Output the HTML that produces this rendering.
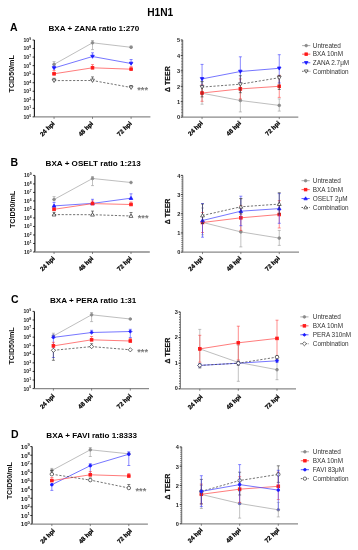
<!DOCTYPE html>
<html><head><meta charset="utf-8"><style>
html,body{margin:0;padding:0;background:#fff;}
body{width:358px;height:550px;overflow:hidden;}
svg{display:block;font-family:"Liberation Sans", sans-serif;will-change:transform;}
</style></head><body>
<svg width="358" height="550" viewBox="0 0 358 550">
<rect width="358" height="550" fill="#fff"/>
<text x="160.2" y="15.9" font-size="10.2" font-weight="bold" text-anchor="middle" fill="#000" >H1N1</text>
<text x="10" y="30.6" font-size="10.5" font-weight="bold" text-anchor="start" fill="#000" >A</text>
<text x="48.4" y="30.6" font-size="8.1" font-weight="bold" text-anchor="start" fill="#000" >BXA + ZANA ratio 1:270</text>
<line x1="34.4" y1="40" x2="34.4" y2="116.9" stroke="#1a1a1a" stroke-width="1.15"/>
<line x1="34.4" y1="116.9" x2="150.4" y2="116.9" stroke="#8a8a8a" stroke-width="1.3"/>
<line x1="32.6" y1="116.9" x2="34.4" y2="116.9" stroke="#000" stroke-width="0.8"/>
<text x="31.1" y="118.8" font-size="5.1" font-weight="bold" text-anchor="end" fill="#222">10<tspan font-size="3.40" dy="-2.10">0</tspan></text>
<line x1="32.6" y1="108.36" x2="34.4" y2="108.36" stroke="#000" stroke-width="0.8"/>
<text x="31.1" y="110.26" font-size="5.1" font-weight="bold" text-anchor="end" fill="#222">10<tspan font-size="3.40" dy="-2.10">1</tspan></text>
<line x1="32.6" y1="99.81" x2="34.4" y2="99.81" stroke="#000" stroke-width="0.8"/>
<text x="31.1" y="101.71" font-size="5.1" font-weight="bold" text-anchor="end" fill="#222">10<tspan font-size="3.40" dy="-2.10">2</tspan></text>
<line x1="32.6" y1="91.27" x2="34.4" y2="91.27" stroke="#000" stroke-width="0.8"/>
<text x="31.1" y="93.17" font-size="5.1" font-weight="bold" text-anchor="end" fill="#222">10<tspan font-size="3.40" dy="-2.10">3</tspan></text>
<line x1="32.6" y1="82.72" x2="34.4" y2="82.72" stroke="#000" stroke-width="0.8"/>
<text x="31.1" y="84.62" font-size="5.1" font-weight="bold" text-anchor="end" fill="#222">10<tspan font-size="3.40" dy="-2.10">4</tspan></text>
<line x1="32.6" y1="74.18" x2="34.4" y2="74.18" stroke="#000" stroke-width="0.8"/>
<text x="31.1" y="76.08" font-size="5.1" font-weight="bold" text-anchor="end" fill="#222">10<tspan font-size="3.40" dy="-2.10">5</tspan></text>
<line x1="32.6" y1="65.63" x2="34.4" y2="65.63" stroke="#000" stroke-width="0.8"/>
<text x="31.1" y="67.53" font-size="5.1" font-weight="bold" text-anchor="end" fill="#222">10<tspan font-size="3.40" dy="-2.10">6</tspan></text>
<line x1="32.6" y1="57.09" x2="34.4" y2="57.09" stroke="#000" stroke-width="0.8"/>
<text x="31.1" y="58.99" font-size="5.1" font-weight="bold" text-anchor="end" fill="#222">10<tspan font-size="3.40" dy="-2.10">7</tspan></text>
<line x1="32.6" y1="48.54" x2="34.4" y2="48.54" stroke="#000" stroke-width="0.8"/>
<text x="31.1" y="50.44" font-size="5.1" font-weight="bold" text-anchor="end" fill="#222">10<tspan font-size="3.40" dy="-2.10">8</tspan></text>
<line x1="32.6" y1="40.0" x2="34.4" y2="40.0" stroke="#000" stroke-width="0.8"/>
<text x="31.1" y="41.9" font-size="5.1" font-weight="bold" text-anchor="end" fill="#222">10<tspan font-size="3.40" dy="-2.10">9</tspan></text>
<text x="11.85" y="73.85" font-size="6.9" font-weight="bold" text-anchor="middle" fill="#111" transform="rotate(-90 11.85 73.85)" dominant-baseline="central" textLength="37.2" lengthAdjust="spacingAndGlyphs">TCID50/mL</text>
<line x1="54.05" y1="116.9" x2="54.05" y2="118.9" stroke="#555" stroke-width="0.7"/>
<text x="51.7" y="120.63" font-size="6.2" font-weight="bold" text-anchor="end" fill="#000" stroke="#000" stroke-width="0.25" transform="rotate(-45 51.7 120.63)" dominant-baseline="hanging">24 hpi</text>
<line x1="92.5" y1="116.9" x2="92.5" y2="118.9" stroke="#555" stroke-width="0.7"/>
<text x="90.15" y="120.63" font-size="6.2" font-weight="bold" text-anchor="end" fill="#000" stroke="#000" stroke-width="0.25" transform="rotate(-45 90.15 120.63)" dominant-baseline="hanging">48 hpi</text>
<line x1="131.1" y1="116.9" x2="131.1" y2="118.9" stroke="#555" stroke-width="0.7"/>
<text x="128.75" y="120.63" font-size="6.2" font-weight="bold" text-anchor="end" fill="#000" stroke="#000" stroke-width="0.25" transform="rotate(-45 128.75 120.63)" dominant-baseline="hanging">72 hpi</text>
<polyline points="54.05,64.40 92.50,42.80 131.10,47.30" fill="none" stroke="#a8a8a8" stroke-width="0.75"/>
<polyline points="54.05,68.00 92.50,56.50 131.10,63.50" fill="none" stroke="#4848ff" stroke-width="0.75"/>
<polyline points="54.05,73.80 92.50,67.80 131.10,69.20" fill="none" stroke="#ff5050" stroke-width="0.75"/>
<polyline points="54.05,80.60 92.50,80.50 131.10,87.50" fill="none" stroke="#444" stroke-width="0.75" stroke-dasharray="2.2,1.6"/>
<line x1="54.05" y1="61.6" x2="54.05" y2="64.4" stroke="#999" stroke-width="0.6"/>
<line x1="52.55" y1="61.6" x2="55.55" y2="61.6" stroke="#999" stroke-width="0.6"/>
<line x1="52.55" y1="64.4" x2="55.55" y2="64.4" stroke="#999" stroke-width="0.6"/>
<line x1="92.5" y1="40.5" x2="92.5" y2="49.6" stroke="#999" stroke-width="0.6"/>
<line x1="91.0" y1="40.5" x2="94.0" y2="40.5" stroke="#999" stroke-width="0.6"/>
<line x1="91.0" y1="49.6" x2="94.0" y2="49.6" stroke="#999" stroke-width="0.6"/>
<line x1="131.1" y1="46" x2="131.1" y2="47.3" stroke="#999" stroke-width="0.6"/>
<line x1="129.6" y1="46" x2="132.6" y2="46" stroke="#999" stroke-width="0.6"/>
<line x1="129.6" y1="47.3" x2="132.6" y2="47.3" stroke="#999" stroke-width="0.6"/>
<circle cx="54.05" cy="64.4" r="1.35" fill="#8a8a8a" stroke="#8a8a8a" stroke-width="0.8"/>
<circle cx="92.5" cy="42.8" r="1.35" fill="#8a8a8a" stroke="#8a8a8a" stroke-width="0.8"/>
<circle cx="131.1" cy="47.3" r="1.35" fill="#8a8a8a" stroke="#8a8a8a" stroke-width="0.8"/>
<line x1="54.05" y1="66.1" x2="54.05" y2="68" stroke="#3a3aff" stroke-width="0.6"/>
<line x1="52.55" y1="66.1" x2="55.55" y2="66.1" stroke="#3a3aff" stroke-width="0.6"/>
<line x1="52.55" y1="68" x2="55.55" y2="68" stroke="#3a3aff" stroke-width="0.6"/>
<line x1="92.5" y1="52.8" x2="92.5" y2="56.5" stroke="#3a3aff" stroke-width="0.6"/>
<line x1="91.0" y1="52.8" x2="94.0" y2="52.8" stroke="#3a3aff" stroke-width="0.6"/>
<line x1="91.0" y1="56.5" x2="94.0" y2="56.5" stroke="#3a3aff" stroke-width="0.6"/>
<line x1="131.1" y1="59.5" x2="131.1" y2="63.5" stroke="#3a3aff" stroke-width="0.6"/>
<line x1="129.6" y1="59.5" x2="132.6" y2="59.5" stroke="#3a3aff" stroke-width="0.6"/>
<line x1="129.6" y1="63.5" x2="132.6" y2="63.5" stroke="#3a3aff" stroke-width="0.6"/>
<polygon points="52.27,66.7 55.83,66.7 54.05,69.78" fill="#1a1aff" stroke="#1a1aff" stroke-width="0.8"/>
<polygon points="90.72,55.2 94.28,55.2 92.5,58.28" fill="#1a1aff" stroke="#1a1aff" stroke-width="0.8"/>
<polygon points="129.32,62.2 132.88,62.2 131.1,65.28" fill="#1a1aff" stroke="#1a1aff" stroke-width="0.8"/>
<line x1="54.05" y1="70.4" x2="54.05" y2="73.8" stroke="#ff4040" stroke-width="0.6"/>
<line x1="52.55" y1="70.4" x2="55.55" y2="70.4" stroke="#ff4040" stroke-width="0.6"/>
<line x1="52.55" y1="73.8" x2="55.55" y2="73.8" stroke="#ff4040" stroke-width="0.6"/>
<line x1="92.5" y1="64.6" x2="92.5" y2="67.8" stroke="#ff4040" stroke-width="0.6"/>
<line x1="91.0" y1="64.6" x2="94.0" y2="64.6" stroke="#ff4040" stroke-width="0.6"/>
<line x1="91.0" y1="67.8" x2="94.0" y2="67.8" stroke="#ff4040" stroke-width="0.6"/>
<line x1="131.1" y1="66.7" x2="131.1" y2="69.2" stroke="#ff4040" stroke-width="0.6"/>
<line x1="129.6" y1="66.7" x2="132.6" y2="66.7" stroke="#ff4040" stroke-width="0.6"/>
<line x1="129.6" y1="69.2" x2="132.6" y2="69.2" stroke="#ff4040" stroke-width="0.6"/>
<rect x="52.7" y="72.45" width="2.7" height="2.7" fill="#ff1a1a" stroke="#ff1a1a" stroke-width="0.8"/>
<rect x="91.15" y="66.45" width="2.7" height="2.7" fill="#ff1a1a" stroke="#ff1a1a" stroke-width="0.8"/>
<rect x="129.75" y="67.85" width="2.7" height="2.7" fill="#ff1a1a" stroke="#ff1a1a" stroke-width="0.8"/>
<line x1="54.05" y1="78.3" x2="54.05" y2="80.6" stroke="#333" stroke-width="0.6"/>
<line x1="52.55" y1="78.3" x2="55.55" y2="78.3" stroke="#333" stroke-width="0.6"/>
<line x1="52.55" y1="80.6" x2="55.55" y2="80.6" stroke="#333" stroke-width="0.6"/>
<line x1="92.5" y1="76.9" x2="92.5" y2="80.5" stroke="#333" stroke-width="0.6"/>
<line x1="91.0" y1="76.9" x2="94.0" y2="76.9" stroke="#333" stroke-width="0.6"/>
<line x1="91.0" y1="80.5" x2="94.0" y2="80.5" stroke="#333" stroke-width="0.6"/>
<line x1="131.1" y1="85.5" x2="131.1" y2="87.5" stroke="#333" stroke-width="0.6"/>
<line x1="129.6" y1="85.5" x2="132.6" y2="85.5" stroke="#333" stroke-width="0.6"/>
<line x1="129.6" y1="87.5" x2="132.6" y2="87.5" stroke="#333" stroke-width="0.6"/>
<polygon points="52.12,79.2 55.98,79.2 54.05,82.53" fill="white" stroke="#222" stroke-width="0.65"/>
<polygon points="90.57,79.1 94.43,79.1 92.5,82.43" fill="white" stroke="#222" stroke-width="0.65"/>
<polygon points="129.17,86.1 133.03,86.1 131.1,89.43" fill="white" stroke="#222" stroke-width="0.65"/>
<text x="137.3" y="92.8" font-size="9.2" font-weight="bold" text-anchor="start" fill="#7a7a7a" >***</text>
<line x1="182.7" y1="40" x2="182.7" y2="117.1" stroke="#777" stroke-width="1.05"/>
<line x1="182.7" y1="117.1" x2="298.3" y2="117.1" stroke="#8a8a8a" stroke-width="1.2"/>
<line x1="180.7" y1="117.1" x2="182.7" y2="117.1" stroke="#333" stroke-width="0.8"/>
<text x="180.2" y="119.45" font-size="5.6" font-weight="bold" text-anchor="end" fill="#222" >0</text>
<line x1="180.7" y1="101.68" x2="182.7" y2="101.68" stroke="#333" stroke-width="0.8"/>
<text x="180.2" y="104.03" font-size="5.6" font-weight="bold" text-anchor="end" fill="#222" >1</text>
<line x1="180.7" y1="86.26" x2="182.7" y2="86.26" stroke="#333" stroke-width="0.8"/>
<text x="180.2" y="88.61" font-size="5.6" font-weight="bold" text-anchor="end" fill="#222" >2</text>
<line x1="180.7" y1="70.84" x2="182.7" y2="70.84" stroke="#333" stroke-width="0.8"/>
<text x="180.2" y="73.19" font-size="5.6" font-weight="bold" text-anchor="end" fill="#222" >3</text>
<line x1="180.7" y1="55.42" x2="182.7" y2="55.42" stroke="#333" stroke-width="0.8"/>
<text x="180.2" y="57.77" font-size="5.6" font-weight="bold" text-anchor="end" fill="#222" >4</text>
<line x1="180.7" y1="40.0" x2="182.7" y2="40.0" stroke="#333" stroke-width="0.8"/>
<text x="180.2" y="42.35" font-size="5.6" font-weight="bold" text-anchor="end" fill="#222" >5</text>
<line x1="181.3" y1="117.1" x2="182.4" y2="117.1" stroke="#111" stroke-width="0.65"/>
<line x1="181.3" y1="115.56" x2="182.4" y2="115.56" stroke="#111" stroke-width="0.65"/>
<line x1="181.3" y1="114.02" x2="182.4" y2="114.02" stroke="#111" stroke-width="0.65"/>
<line x1="181.3" y1="112.47" x2="182.4" y2="112.47" stroke="#111" stroke-width="0.65"/>
<line x1="181.3" y1="110.93" x2="182.4" y2="110.93" stroke="#111" stroke-width="0.65"/>
<line x1="181.3" y1="109.39" x2="182.4" y2="109.39" stroke="#111" stroke-width="0.65"/>
<line x1="181.3" y1="107.85" x2="182.4" y2="107.85" stroke="#111" stroke-width="0.65"/>
<line x1="181.3" y1="106.31" x2="182.4" y2="106.31" stroke="#111" stroke-width="0.65"/>
<line x1="181.3" y1="104.76" x2="182.4" y2="104.76" stroke="#111" stroke-width="0.65"/>
<line x1="181.3" y1="103.22" x2="182.4" y2="103.22" stroke="#111" stroke-width="0.65"/>
<line x1="181.3" y1="101.68" x2="182.4" y2="101.68" stroke="#111" stroke-width="0.65"/>
<line x1="181.3" y1="100.14" x2="182.4" y2="100.14" stroke="#111" stroke-width="0.65"/>
<line x1="181.3" y1="98.6" x2="182.4" y2="98.6" stroke="#111" stroke-width="0.65"/>
<line x1="181.3" y1="97.05" x2="182.4" y2="97.05" stroke="#111" stroke-width="0.65"/>
<line x1="181.3" y1="95.51" x2="182.4" y2="95.51" stroke="#111" stroke-width="0.65"/>
<line x1="181.3" y1="93.97" x2="182.4" y2="93.97" stroke="#111" stroke-width="0.65"/>
<line x1="181.3" y1="92.43" x2="182.4" y2="92.43" stroke="#111" stroke-width="0.65"/>
<line x1="181.3" y1="90.89" x2="182.4" y2="90.89" stroke="#111" stroke-width="0.65"/>
<line x1="181.3" y1="89.34" x2="182.4" y2="89.34" stroke="#111" stroke-width="0.65"/>
<line x1="181.3" y1="87.8" x2="182.4" y2="87.8" stroke="#111" stroke-width="0.65"/>
<line x1="181.3" y1="86.26" x2="182.4" y2="86.26" stroke="#111" stroke-width="0.65"/>
<line x1="181.3" y1="84.72" x2="182.4" y2="84.72" stroke="#111" stroke-width="0.65"/>
<line x1="181.3" y1="83.18" x2="182.4" y2="83.18" stroke="#111" stroke-width="0.65"/>
<line x1="181.3" y1="81.63" x2="182.4" y2="81.63" stroke="#111" stroke-width="0.65"/>
<line x1="181.3" y1="80.09" x2="182.4" y2="80.09" stroke="#111" stroke-width="0.65"/>
<line x1="181.3" y1="78.55" x2="182.4" y2="78.55" stroke="#111" stroke-width="0.65"/>
<line x1="181.3" y1="77.01" x2="182.4" y2="77.01" stroke="#111" stroke-width="0.65"/>
<line x1="181.3" y1="75.47" x2="182.4" y2="75.47" stroke="#111" stroke-width="0.65"/>
<line x1="181.3" y1="73.92" x2="182.4" y2="73.92" stroke="#111" stroke-width="0.65"/>
<line x1="181.3" y1="72.38" x2="182.4" y2="72.38" stroke="#111" stroke-width="0.65"/>
<line x1="181.3" y1="70.84" x2="182.4" y2="70.84" stroke="#111" stroke-width="0.65"/>
<line x1="181.3" y1="69.3" x2="182.4" y2="69.3" stroke="#111" stroke-width="0.65"/>
<line x1="181.3" y1="67.76" x2="182.4" y2="67.76" stroke="#111" stroke-width="0.65"/>
<line x1="181.3" y1="66.21" x2="182.4" y2="66.21" stroke="#111" stroke-width="0.65"/>
<line x1="181.3" y1="64.67" x2="182.4" y2="64.67" stroke="#111" stroke-width="0.65"/>
<line x1="181.3" y1="63.13" x2="182.4" y2="63.13" stroke="#111" stroke-width="0.65"/>
<line x1="181.3" y1="61.59" x2="182.4" y2="61.59" stroke="#111" stroke-width="0.65"/>
<line x1="181.3" y1="60.05" x2="182.4" y2="60.05" stroke="#111" stroke-width="0.65"/>
<line x1="181.3" y1="58.5" x2="182.4" y2="58.5" stroke="#111" stroke-width="0.65"/>
<line x1="181.3" y1="56.96" x2="182.4" y2="56.96" stroke="#111" stroke-width="0.65"/>
<line x1="181.3" y1="55.42" x2="182.4" y2="55.42" stroke="#111" stroke-width="0.65"/>
<line x1="181.3" y1="53.88" x2="182.4" y2="53.88" stroke="#111" stroke-width="0.65"/>
<line x1="181.3" y1="52.34" x2="182.4" y2="52.34" stroke="#111" stroke-width="0.65"/>
<line x1="181.3" y1="50.79" x2="182.4" y2="50.79" stroke="#111" stroke-width="0.65"/>
<line x1="181.3" y1="49.25" x2="182.4" y2="49.25" stroke="#111" stroke-width="0.65"/>
<line x1="181.3" y1="47.71" x2="182.4" y2="47.71" stroke="#111" stroke-width="0.65"/>
<line x1="181.3" y1="46.17" x2="182.4" y2="46.17" stroke="#111" stroke-width="0.65"/>
<line x1="181.3" y1="44.63" x2="182.4" y2="44.63" stroke="#111" stroke-width="0.65"/>
<line x1="181.3" y1="43.08" x2="182.4" y2="43.08" stroke="#111" stroke-width="0.65"/>
<line x1="181.3" y1="41.54" x2="182.4" y2="41.54" stroke="#111" stroke-width="0.65"/>
<line x1="181.3" y1="40.0" x2="182.4" y2="40.0" stroke="#111" stroke-width="0.65"/>
<text x="167.8" y="79.1" font-size="6.6" font-weight="bold" text-anchor="middle" fill="#111" stroke="#111" stroke-width="0.2" transform="rotate(-90 167.8 79.1)" dominant-baseline="central" textLength="25.6" lengthAdjust="spacingAndGlyphs">&#916; TEER</text>
<line x1="202.05" y1="117.1" x2="202.05" y2="119.1" stroke="#555" stroke-width="0.7"/>
<text x="199.78" y="120.22" font-size="6.2" font-weight="bold" text-anchor="end" fill="#000" stroke="#000" stroke-width="0.25" transform="rotate(-45 199.78 120.22)" dominant-baseline="hanging">24 hpi</text>
<line x1="240.35" y1="117.1" x2="240.35" y2="119.1" stroke="#555" stroke-width="0.7"/>
<text x="238.08" y="120.22" font-size="6.2" font-weight="bold" text-anchor="end" fill="#000" stroke="#000" stroke-width="0.25" transform="rotate(-45 238.08 120.22)" dominant-baseline="hanging">48 hpi</text>
<line x1="279.25" y1="117.1" x2="279.25" y2="119.1" stroke="#555" stroke-width="0.7"/>
<text x="276.98" y="120.22" font-size="6.2" font-weight="bold" text-anchor="end" fill="#000" stroke="#000" stroke-width="0.25" transform="rotate(-45 276.98 120.22)" dominant-baseline="hanging">72 hpi</text>
<polyline points="202.05,93.20 240.35,100.50 279.25,105.40" fill="none" stroke="#a8a8a8" stroke-width="0.75"/>
<polyline points="202.05,93.00 240.35,88.90 279.25,86.30" fill="none" stroke="#ff5050" stroke-width="0.75"/>
<polyline points="202.05,78.90 240.35,71.50 279.25,68.30" fill="none" stroke="#4848ff" stroke-width="0.75"/>
<polyline points="202.05,87.10 240.35,84.20 279.25,77.70" fill="none" stroke="#444" stroke-width="0.75" stroke-dasharray="2.2,1.6"/>
<line x1="202.05" y1="81.3" x2="202.05" y2="104.2" stroke="#999" stroke-width="0.6"/>
<line x1="200.55" y1="81.3" x2="203.55" y2="81.3" stroke="#999" stroke-width="0.6"/>
<line x1="200.55" y1="104.2" x2="203.55" y2="104.2" stroke="#999" stroke-width="0.6"/>
<line x1="240.35" y1="90" x2="240.35" y2="111.9" stroke="#999" stroke-width="0.6"/>
<line x1="238.85" y1="90" x2="241.85" y2="90" stroke="#999" stroke-width="0.6"/>
<line x1="238.85" y1="111.9" x2="241.85" y2="111.9" stroke="#999" stroke-width="0.6"/>
<line x1="279.25" y1="98.9" x2="279.25" y2="111.1" stroke="#999" stroke-width="0.6"/>
<line x1="277.75" y1="98.9" x2="280.75" y2="98.9" stroke="#999" stroke-width="0.6"/>
<line x1="277.75" y1="111.1" x2="280.75" y2="111.1" stroke="#999" stroke-width="0.6"/>
<circle cx="202.05" cy="93.2" r="1.35" fill="#8a8a8a" stroke="#8a8a8a" stroke-width="0.8"/>
<circle cx="240.35" cy="100.5" r="1.35" fill="#8a8a8a" stroke="#8a8a8a" stroke-width="0.8"/>
<circle cx="279.25" cy="105.4" r="1.35" fill="#8a8a8a" stroke="#8a8a8a" stroke-width="0.8"/>
<line x1="202.05" y1="84.8" x2="202.05" y2="101.3" stroke="#ff4040" stroke-width="0.6"/>
<line x1="200.55" y1="84.8" x2="203.55" y2="84.8" stroke="#ff4040" stroke-width="0.6"/>
<line x1="200.55" y1="101.3" x2="203.55" y2="101.3" stroke="#ff4040" stroke-width="0.6"/>
<line x1="240.35" y1="78.9" x2="240.35" y2="98.9" stroke="#ff4040" stroke-width="0.6"/>
<line x1="238.85" y1="78.9" x2="241.85" y2="78.9" stroke="#ff4040" stroke-width="0.6"/>
<line x1="238.85" y1="98.9" x2="241.85" y2="98.9" stroke="#ff4040" stroke-width="0.6"/>
<line x1="279.25" y1="75.4" x2="279.25" y2="97.4" stroke="#ff4040" stroke-width="0.6"/>
<line x1="277.75" y1="75.4" x2="280.75" y2="75.4" stroke="#ff4040" stroke-width="0.6"/>
<line x1="277.75" y1="97.4" x2="280.75" y2="97.4" stroke="#ff4040" stroke-width="0.6"/>
<rect x="200.7" y="91.65" width="2.7" height="2.7" fill="#ff1a1a" stroke="#ff1a1a" stroke-width="0.8"/>
<rect x="239.0" y="87.55" width="2.7" height="2.7" fill="#ff1a1a" stroke="#ff1a1a" stroke-width="0.8"/>
<rect x="277.9" y="84.95" width="2.7" height="2.7" fill="#ff1a1a" stroke="#ff1a1a" stroke-width="0.8"/>
<line x1="202.05" y1="64.4" x2="202.05" y2="86" stroke="#3a3aff" stroke-width="0.6"/>
<line x1="200.55" y1="64.4" x2="203.55" y2="64.4" stroke="#3a3aff" stroke-width="0.6"/>
<line x1="200.55" y1="86" x2="203.55" y2="86" stroke="#3a3aff" stroke-width="0.6"/>
<line x1="240.35" y1="56.8" x2="240.35" y2="83" stroke="#3a3aff" stroke-width="0.6"/>
<line x1="238.85" y1="56.8" x2="241.85" y2="56.8" stroke="#3a3aff" stroke-width="0.6"/>
<line x1="238.85" y1="83" x2="241.85" y2="83" stroke="#3a3aff" stroke-width="0.6"/>
<line x1="279.25" y1="54.7" x2="279.25" y2="83" stroke="#3a3aff" stroke-width="0.6"/>
<line x1="277.75" y1="54.7" x2="280.75" y2="54.7" stroke="#3a3aff" stroke-width="0.6"/>
<line x1="277.75" y1="83" x2="280.75" y2="83" stroke="#3a3aff" stroke-width="0.6"/>
<polygon points="200.27,77.6 203.83,77.6 202.05,80.68" fill="#1a1aff" stroke="#1a1aff" stroke-width="0.8"/>
<polygon points="238.57,70.2 242.13,70.2 240.35,73.28" fill="#1a1aff" stroke="#1a1aff" stroke-width="0.8"/>
<polygon points="277.47,67 281.03,67 279.25,70.08" fill="#1a1aff" stroke="#1a1aff" stroke-width="0.8"/>
<line x1="202.05" y1="81.6" x2="202.05" y2="96.9" stroke="#333" stroke-width="0.6"/>
<line x1="200.55" y1="81.6" x2="203.55" y2="81.6" stroke="#333" stroke-width="0.6"/>
<line x1="200.55" y1="96.9" x2="203.55" y2="96.9" stroke="#333" stroke-width="0.6"/>
<line x1="240.35" y1="75.7" x2="240.35" y2="92.7" stroke="#333" stroke-width="0.6"/>
<line x1="238.85" y1="75.7" x2="241.85" y2="75.7" stroke="#333" stroke-width="0.6"/>
<line x1="238.85" y1="92.7" x2="241.85" y2="92.7" stroke="#333" stroke-width="0.6"/>
<line x1="279.25" y1="75.4" x2="279.25" y2="89.5" stroke="#333" stroke-width="0.6"/>
<line x1="277.75" y1="75.4" x2="280.75" y2="75.4" stroke="#333" stroke-width="0.6"/>
<line x1="277.75" y1="89.5" x2="280.75" y2="89.5" stroke="#333" stroke-width="0.6"/>
<polygon points="200.12,85.7 203.98,85.7 202.05,89.03" fill="white" stroke="#222" stroke-width="0.65"/>
<polygon points="238.42,82.8 242.28,82.8 240.35,86.13" fill="white" stroke="#222" stroke-width="0.65"/>
<polygon points="277.32,76.3 281.18,76.3 279.25,79.63" fill="white" stroke="#222" stroke-width="0.65"/>
<line x1="302.1" y1="45.6" x2="310.3" y2="45.6" stroke="#8a8a8a" stroke-width="0.7"/>
<circle cx="306.2" cy="45.6" r="1.3" fill="#8a8a8a" stroke="#8a8a8a" stroke-width="0.8"/>
<text x="312.8" y="47.9" font-size="6.4" font-weight="normal" text-anchor="start" fill="#333" >Untreated</text>
<line x1="302.1" y1="54.17" x2="310.3" y2="54.17" stroke="#ff1a1a" stroke-width="0.7"/>
<rect x="304.9" y="52.87" width="2.6" height="2.6" fill="#ff1a1a" stroke="#ff1a1a" stroke-width="0.8"/>
<text x="312.8" y="56.47" font-size="6.4" font-weight="normal" text-anchor="start" fill="#333" >BXA 10nM</text>
<line x1="302.1" y1="62.74" x2="310.3" y2="62.74" stroke="#1a1aff" stroke-width="0.7"/>
<polygon points="304.48,61.49 307.92,61.49 306.2,64.46" fill="#1a1aff" stroke="#1a1aff" stroke-width="0.8"/>
<text x="312.8" y="65.04" font-size="6.4" font-weight="normal" text-anchor="start" fill="#333" >ZANA 2.7&#956;M</text>
<line x1="302.1" y1="71.31" x2="310.3" y2="71.31" stroke="#222" stroke-width="0.7" stroke-dasharray="1.5,1"/>
<polygon points="304.34,69.96 308.06,69.96 306.2,73.17" fill="white" stroke="#222" stroke-width="0.65"/>
<text x="312.8" y="73.61" font-size="6.4" font-weight="normal" text-anchor="start" fill="#333" >Combination</text>
<text x="10.4" y="166.3" font-size="10.5" font-weight="bold" text-anchor="start" fill="#000" >B</text>
<text x="45.6" y="166.3" font-size="8.1" font-weight="bold" text-anchor="start" fill="#000" >BXA + OSELT ratio 1:213</text>
<line x1="34.9" y1="175.4" x2="34.9" y2="252" stroke="#1a1a1a" stroke-width="1.15"/>
<line x1="34.9" y1="252" x2="149.8" y2="252" stroke="#8a8a8a" stroke-width="1.3"/>
<line x1="33.1" y1="252.0" x2="34.9" y2="252.0" stroke="#000" stroke-width="0.8"/>
<text x="31.6" y="253.9" font-size="5.1" font-weight="bold" text-anchor="end" fill="#222">10<tspan font-size="3.40" dy="-2.10">0</tspan></text>
<line x1="33.1" y1="243.49" x2="34.9" y2="243.49" stroke="#000" stroke-width="0.8"/>
<text x="31.6" y="245.39" font-size="5.1" font-weight="bold" text-anchor="end" fill="#222">10<tspan font-size="3.40" dy="-2.10">1</tspan></text>
<line x1="33.1" y1="234.98" x2="34.9" y2="234.98" stroke="#000" stroke-width="0.8"/>
<text x="31.6" y="236.88" font-size="5.1" font-weight="bold" text-anchor="end" fill="#222">10<tspan font-size="3.40" dy="-2.10">2</tspan></text>
<line x1="33.1" y1="226.47" x2="34.9" y2="226.47" stroke="#000" stroke-width="0.8"/>
<text x="31.6" y="228.37" font-size="5.1" font-weight="bold" text-anchor="end" fill="#222">10<tspan font-size="3.40" dy="-2.10">3</tspan></text>
<line x1="33.1" y1="217.96" x2="34.9" y2="217.96" stroke="#000" stroke-width="0.8"/>
<text x="31.6" y="219.86" font-size="5.1" font-weight="bold" text-anchor="end" fill="#222">10<tspan font-size="3.40" dy="-2.10">4</tspan></text>
<line x1="33.1" y1="209.44" x2="34.9" y2="209.44" stroke="#000" stroke-width="0.8"/>
<text x="31.6" y="211.34" font-size="5.1" font-weight="bold" text-anchor="end" fill="#222">10<tspan font-size="3.40" dy="-2.10">5</tspan></text>
<line x1="33.1" y1="200.93" x2="34.9" y2="200.93" stroke="#000" stroke-width="0.8"/>
<text x="31.6" y="202.83" font-size="5.1" font-weight="bold" text-anchor="end" fill="#222">10<tspan font-size="3.40" dy="-2.10">6</tspan></text>
<line x1="33.1" y1="192.42" x2="34.9" y2="192.42" stroke="#000" stroke-width="0.8"/>
<text x="31.6" y="194.32" font-size="5.1" font-weight="bold" text-anchor="end" fill="#222">10<tspan font-size="3.40" dy="-2.10">7</tspan></text>
<line x1="33.1" y1="183.91" x2="34.9" y2="183.91" stroke="#000" stroke-width="0.8"/>
<text x="31.6" y="185.81" font-size="5.1" font-weight="bold" text-anchor="end" fill="#222">10<tspan font-size="3.40" dy="-2.10">8</tspan></text>
<line x1="33.1" y1="175.4" x2="34.9" y2="175.4" stroke="#000" stroke-width="0.8"/>
<text x="31.6" y="177.3" font-size="5.1" font-weight="bold" text-anchor="end" fill="#222">10<tspan font-size="3.40" dy="-2.10">9</tspan></text>
<text x="12" y="209.5" font-size="6.9" font-weight="bold" text-anchor="middle" fill="#111" transform="rotate(-90 12 209.5)" dominant-baseline="central" textLength="37.2" lengthAdjust="spacingAndGlyphs">TCID50/mL</text>
<line x1="54.05" y1="252" x2="54.05" y2="254" stroke="#555" stroke-width="0.7"/>
<text x="51.78" y="255.52" font-size="6.2" font-weight="bold" text-anchor="end" fill="#000" stroke="#000" stroke-width="0.25" transform="rotate(-45 51.78 255.52)" dominant-baseline="hanging">24 hpi</text>
<line x1="92.5" y1="252" x2="92.5" y2="254" stroke="#555" stroke-width="0.7"/>
<text x="90.23" y="255.52" font-size="6.2" font-weight="bold" text-anchor="end" fill="#000" stroke="#000" stroke-width="0.25" transform="rotate(-45 90.23 255.52)" dominant-baseline="hanging">48 hpi</text>
<line x1="131" y1="252" x2="131" y2="254" stroke="#555" stroke-width="0.7"/>
<text x="128.73" y="255.52" font-size="6.2" font-weight="bold" text-anchor="end" fill="#000" stroke="#000" stroke-width="0.25" transform="rotate(-45 128.73 255.52)" dominant-baseline="hanging">72 hpi</text>
<polyline points="54.05,199.50 92.50,178.50 131.00,182.50" fill="none" stroke="#a8a8a8" stroke-width="0.75"/>
<polyline points="54.05,205.90 92.50,203.40 131.00,198.20" fill="none" stroke="#4848ff" stroke-width="0.75"/>
<polyline points="54.05,209.30 92.50,203.60 131.00,204.50" fill="none" stroke="#ff5050" stroke-width="0.75"/>
<polyline points="54.05,214.60 92.50,214.70 131.00,216.00" fill="none" stroke="#444" stroke-width="0.75" stroke-dasharray="2.2,1.6"/>
<line x1="54.05" y1="196.6" x2="54.05" y2="199.5" stroke="#999" stroke-width="0.6"/>
<line x1="52.55" y1="196.6" x2="55.55" y2="196.6" stroke="#999" stroke-width="0.6"/>
<line x1="52.55" y1="199.5" x2="55.55" y2="199.5" stroke="#999" stroke-width="0.6"/>
<line x1="92.5" y1="176.5" x2="92.5" y2="185.6" stroke="#999" stroke-width="0.6"/>
<line x1="91.0" y1="176.5" x2="94.0" y2="176.5" stroke="#999" stroke-width="0.6"/>
<line x1="91.0" y1="185.6" x2="94.0" y2="185.6" stroke="#999" stroke-width="0.6"/>
<circle cx="54.05" cy="199.5" r="1.35" fill="#8a8a8a" stroke="#8a8a8a" stroke-width="0.8"/>
<circle cx="92.5" cy="178.5" r="1.35" fill="#8a8a8a" stroke="#8a8a8a" stroke-width="0.8"/>
<circle cx="131" cy="182.5" r="1.35" fill="#8a8a8a" stroke="#8a8a8a" stroke-width="0.8"/>
<line x1="54.05" y1="202.4" x2="54.05" y2="205.9" stroke="#3a3aff" stroke-width="0.6"/>
<line x1="52.55" y1="202.4" x2="55.55" y2="202.4" stroke="#3a3aff" stroke-width="0.6"/>
<line x1="52.55" y1="205.9" x2="55.55" y2="205.9" stroke="#3a3aff" stroke-width="0.6"/>
<line x1="92.5" y1="199.3" x2="92.5" y2="203.4" stroke="#3a3aff" stroke-width="0.6"/>
<line x1="91.0" y1="199.3" x2="94.0" y2="199.3" stroke="#3a3aff" stroke-width="0.6"/>
<line x1="91.0" y1="203.4" x2="94.0" y2="203.4" stroke="#3a3aff" stroke-width="0.6"/>
<line x1="131" y1="193.8" x2="131" y2="198.2" stroke="#3a3aff" stroke-width="0.6"/>
<line x1="129.5" y1="193.8" x2="132.5" y2="193.8" stroke="#3a3aff" stroke-width="0.6"/>
<line x1="129.5" y1="198.2" x2="132.5" y2="198.2" stroke="#3a3aff" stroke-width="0.6"/>
<polygon points="52.27,207.2 55.83,207.2 54.05,204.12" fill="#1a1aff" stroke="#1a1aff" stroke-width="0.8"/>
<polygon points="90.72,204.7 94.28,204.7 92.5,201.62" fill="#1a1aff" stroke="#1a1aff" stroke-width="0.8"/>
<polygon points="129.22,199.5 132.78,199.5 131,196.42" fill="#1a1aff" stroke="#1a1aff" stroke-width="0.8"/>
<line x1="92.5" y1="201" x2="92.5" y2="203.6" stroke="#ff4040" stroke-width="0.6"/>
<line x1="91.0" y1="201" x2="94.0" y2="201" stroke="#ff4040" stroke-width="0.6"/>
<line x1="91.0" y1="203.6" x2="94.0" y2="203.6" stroke="#ff4040" stroke-width="0.6"/>
<line x1="131" y1="202" x2="131" y2="204.5" stroke="#ff4040" stroke-width="0.6"/>
<line x1="129.5" y1="202" x2="132.5" y2="202" stroke="#ff4040" stroke-width="0.6"/>
<line x1="129.5" y1="204.5" x2="132.5" y2="204.5" stroke="#ff4040" stroke-width="0.6"/>
<rect x="52.7" y="207.95" width="2.7" height="2.7" fill="#ff1a1a" stroke="#ff1a1a" stroke-width="0.8"/>
<rect x="91.15" y="202.25" width="2.7" height="2.7" fill="#ff1a1a" stroke="#ff1a1a" stroke-width="0.8"/>
<rect x="129.65" y="203.15" width="2.7" height="2.7" fill="#ff1a1a" stroke="#ff1a1a" stroke-width="0.8"/>
<line x1="54.05" y1="212.3" x2="54.05" y2="214.6" stroke="#333" stroke-width="0.6"/>
<line x1="52.55" y1="212.3" x2="55.55" y2="212.3" stroke="#333" stroke-width="0.6"/>
<line x1="52.55" y1="214.6" x2="55.55" y2="214.6" stroke="#333" stroke-width="0.6"/>
<line x1="92.5" y1="211.1" x2="92.5" y2="214.7" stroke="#333" stroke-width="0.6"/>
<line x1="91.0" y1="211.1" x2="94.0" y2="211.1" stroke="#333" stroke-width="0.6"/>
<line x1="91.0" y1="214.7" x2="94.0" y2="214.7" stroke="#333" stroke-width="0.6"/>
<line x1="131" y1="212.5" x2="131" y2="216" stroke="#333" stroke-width="0.6"/>
<line x1="129.5" y1="212.5" x2="132.5" y2="212.5" stroke="#333" stroke-width="0.6"/>
<line x1="129.5" y1="216" x2="132.5" y2="216" stroke="#333" stroke-width="0.6"/>
<polygon points="52.12,216 55.98,216 54.05,212.67" fill="white" stroke="#222" stroke-width="0.65"/>
<polygon points="90.57,216.1 94.43,216.1 92.5,212.77" fill="white" stroke="#222" stroke-width="0.65"/>
<polygon points="129.07,217.4 132.93,217.4 131,214.07" fill="white" stroke="#222" stroke-width="0.65"/>
<text x="137.8" y="220.5" font-size="9.2" font-weight="bold" text-anchor="start" fill="#7a7a7a" >***</text>
<line x1="182.8" y1="175.4" x2="182.8" y2="252.1" stroke="#777" stroke-width="1.05"/>
<line x1="182.8" y1="252.1" x2="299" y2="252.1" stroke="#8a8a8a" stroke-width="1.2"/>
<line x1="180.8" y1="252.1" x2="182.8" y2="252.1" stroke="#333" stroke-width="0.8"/>
<text x="180.3" y="254.45" font-size="5.6" font-weight="bold" text-anchor="end" fill="#222" >0</text>
<line x1="180.8" y1="232.93" x2="182.8" y2="232.93" stroke="#333" stroke-width="0.8"/>
<text x="180.3" y="235.28" font-size="5.6" font-weight="bold" text-anchor="end" fill="#222" >1</text>
<line x1="180.8" y1="213.75" x2="182.8" y2="213.75" stroke="#333" stroke-width="0.8"/>
<text x="180.3" y="216.1" font-size="5.6" font-weight="bold" text-anchor="end" fill="#222" >2</text>
<line x1="180.8" y1="194.57" x2="182.8" y2="194.57" stroke="#333" stroke-width="0.8"/>
<text x="180.3" y="196.92" font-size="5.6" font-weight="bold" text-anchor="end" fill="#222" >3</text>
<line x1="180.8" y1="175.4" x2="182.8" y2="175.4" stroke="#333" stroke-width="0.8"/>
<text x="180.3" y="177.75" font-size="5.6" font-weight="bold" text-anchor="end" fill="#222" >4</text>
<line x1="181.4" y1="252.1" x2="182.5" y2="252.1" stroke="#111" stroke-width="0.65"/>
<line x1="181.4" y1="250.18" x2="182.5" y2="250.18" stroke="#111" stroke-width="0.65"/>
<line x1="181.4" y1="248.26" x2="182.5" y2="248.26" stroke="#111" stroke-width="0.65"/>
<line x1="181.4" y1="246.35" x2="182.5" y2="246.35" stroke="#111" stroke-width="0.65"/>
<line x1="181.4" y1="244.43" x2="182.5" y2="244.43" stroke="#111" stroke-width="0.65"/>
<line x1="181.4" y1="242.51" x2="182.5" y2="242.51" stroke="#111" stroke-width="0.65"/>
<line x1="181.4" y1="240.59" x2="182.5" y2="240.59" stroke="#111" stroke-width="0.65"/>
<line x1="181.4" y1="238.68" x2="182.5" y2="238.68" stroke="#111" stroke-width="0.65"/>
<line x1="181.4" y1="236.76" x2="182.5" y2="236.76" stroke="#111" stroke-width="0.65"/>
<line x1="181.4" y1="234.84" x2="182.5" y2="234.84" stroke="#111" stroke-width="0.65"/>
<line x1="181.4" y1="232.93" x2="182.5" y2="232.93" stroke="#111" stroke-width="0.65"/>
<line x1="181.4" y1="231.01" x2="182.5" y2="231.01" stroke="#111" stroke-width="0.65"/>
<line x1="181.4" y1="229.09" x2="182.5" y2="229.09" stroke="#111" stroke-width="0.65"/>
<line x1="181.4" y1="227.17" x2="182.5" y2="227.17" stroke="#111" stroke-width="0.65"/>
<line x1="181.4" y1="225.25" x2="182.5" y2="225.25" stroke="#111" stroke-width="0.65"/>
<line x1="181.4" y1="223.34" x2="182.5" y2="223.34" stroke="#111" stroke-width="0.65"/>
<line x1="181.4" y1="221.42" x2="182.5" y2="221.42" stroke="#111" stroke-width="0.65"/>
<line x1="181.4" y1="219.5" x2="182.5" y2="219.5" stroke="#111" stroke-width="0.65"/>
<line x1="181.4" y1="217.58" x2="182.5" y2="217.58" stroke="#111" stroke-width="0.65"/>
<line x1="181.4" y1="215.67" x2="182.5" y2="215.67" stroke="#111" stroke-width="0.65"/>
<line x1="181.4" y1="213.75" x2="182.5" y2="213.75" stroke="#111" stroke-width="0.65"/>
<line x1="181.4" y1="211.83" x2="182.5" y2="211.83" stroke="#111" stroke-width="0.65"/>
<line x1="181.4" y1="209.92" x2="182.5" y2="209.92" stroke="#111" stroke-width="0.65"/>
<line x1="181.4" y1="208" x2="182.5" y2="208" stroke="#111" stroke-width="0.65"/>
<line x1="181.4" y1="206.08" x2="182.5" y2="206.08" stroke="#111" stroke-width="0.65"/>
<line x1="181.4" y1="204.16" x2="182.5" y2="204.16" stroke="#111" stroke-width="0.65"/>
<line x1="181.4" y1="202.25" x2="182.5" y2="202.25" stroke="#111" stroke-width="0.65"/>
<line x1="181.4" y1="200.33" x2="182.5" y2="200.33" stroke="#111" stroke-width="0.65"/>
<line x1="181.4" y1="198.41" x2="182.5" y2="198.41" stroke="#111" stroke-width="0.65"/>
<line x1="181.4" y1="196.49" x2="182.5" y2="196.49" stroke="#111" stroke-width="0.65"/>
<line x1="181.4" y1="194.57" x2="182.5" y2="194.57" stroke="#111" stroke-width="0.65"/>
<line x1="181.4" y1="192.66" x2="182.5" y2="192.66" stroke="#111" stroke-width="0.65"/>
<line x1="181.4" y1="190.74" x2="182.5" y2="190.74" stroke="#111" stroke-width="0.65"/>
<line x1="181.4" y1="188.82" x2="182.5" y2="188.82" stroke="#111" stroke-width="0.65"/>
<line x1="181.4" y1="186.91" x2="182.5" y2="186.91" stroke="#111" stroke-width="0.65"/>
<line x1="181.4" y1="184.99" x2="182.5" y2="184.99" stroke="#111" stroke-width="0.65"/>
<line x1="181.4" y1="183.07" x2="182.5" y2="183.07" stroke="#111" stroke-width="0.65"/>
<line x1="181.4" y1="181.15" x2="182.5" y2="181.15" stroke="#111" stroke-width="0.65"/>
<line x1="181.4" y1="179.24" x2="182.5" y2="179.24" stroke="#111" stroke-width="0.65"/>
<line x1="181.4" y1="177.32" x2="182.5" y2="177.32" stroke="#111" stroke-width="0.65"/>
<line x1="181.4" y1="175.4" x2="182.5" y2="175.4" stroke="#111" stroke-width="0.65"/>
<text x="167.6" y="211.4" font-size="6.6" font-weight="bold" text-anchor="middle" fill="#111" stroke="#111" stroke-width="0.2" transform="rotate(-90 167.6 211.4)" dominant-baseline="central" textLength="25.6" lengthAdjust="spacingAndGlyphs">&#916; TEER</text>
<line x1="202.5" y1="252.1" x2="202.5" y2="254.1" stroke="#555" stroke-width="0.7"/>
<text x="199.98" y="255.46" font-size="6.2" font-weight="bold" text-anchor="end" fill="#000" stroke="#000" stroke-width="0.25" transform="rotate(-45 199.98 255.46)" dominant-baseline="hanging">24 hpi</text>
<line x1="240.85" y1="252.1" x2="240.85" y2="254.1" stroke="#555" stroke-width="0.7"/>
<text x="238.33" y="255.46" font-size="6.2" font-weight="bold" text-anchor="end" fill="#000" stroke="#000" stroke-width="0.25" transform="rotate(-45 238.33 255.46)" dominant-baseline="hanging">48 hpi</text>
<line x1="279.25" y1="252.1" x2="279.25" y2="254.1" stroke="#555" stroke-width="0.7"/>
<text x="276.73" y="255.46" font-size="6.2" font-weight="bold" text-anchor="end" fill="#000" stroke="#000" stroke-width="0.25" transform="rotate(-45 276.73 255.46)" dominant-baseline="hanging">72 hpi</text>
<polyline points="202.50,222.40 240.85,231.90 279.25,238.10" fill="none" stroke="#a8a8a8" stroke-width="0.75"/>
<polyline points="202.50,222.50 240.85,217.80 279.25,214.50" fill="none" stroke="#ff5050" stroke-width="0.75"/>
<polyline points="202.50,220.50 240.85,211.20 279.25,208.60" fill="none" stroke="#4848ff" stroke-width="0.75"/>
<polyline points="202.50,215.50 240.85,206.80 279.25,204.10" fill="none" stroke="#444" stroke-width="0.75" stroke-dasharray="2.2,1.6"/>
<line x1="202.5" y1="208" x2="202.5" y2="234.8" stroke="#999" stroke-width="0.6"/>
<line x1="201.0" y1="208" x2="204.0" y2="208" stroke="#999" stroke-width="0.6"/>
<line x1="201.0" y1="234.8" x2="204.0" y2="234.8" stroke="#999" stroke-width="0.6"/>
<line x1="240.85" y1="198.6" x2="240.85" y2="246.9" stroke="#999" stroke-width="0.6"/>
<line x1="239.35" y1="198.6" x2="242.35" y2="198.6" stroke="#999" stroke-width="0.6"/>
<line x1="239.35" y1="246.9" x2="242.35" y2="246.9" stroke="#999" stroke-width="0.6"/>
<line x1="279.25" y1="230.4" x2="279.25" y2="245.4" stroke="#999" stroke-width="0.6"/>
<line x1="277.75" y1="230.4" x2="280.75" y2="230.4" stroke="#999" stroke-width="0.6"/>
<line x1="277.75" y1="245.4" x2="280.75" y2="245.4" stroke="#999" stroke-width="0.6"/>
<circle cx="202.5" cy="222.4" r="1.35" fill="#8a8a8a" stroke="#8a8a8a" stroke-width="0.8"/>
<circle cx="240.85" cy="231.9" r="1.35" fill="#8a8a8a" stroke="#8a8a8a" stroke-width="0.8"/>
<circle cx="279.25" cy="238.1" r="1.35" fill="#8a8a8a" stroke="#8a8a8a" stroke-width="0.8"/>
<line x1="202.5" y1="212.5" x2="202.5" y2="232.5" stroke="#ff4040" stroke-width="0.6"/>
<line x1="201.0" y1="212.5" x2="204.0" y2="212.5" stroke="#ff4040" stroke-width="0.6"/>
<line x1="201.0" y1="232.5" x2="204.0" y2="232.5" stroke="#ff4040" stroke-width="0.6"/>
<line x1="240.85" y1="205.6" x2="240.85" y2="230.4" stroke="#ff4040" stroke-width="0.6"/>
<line x1="239.35" y1="205.6" x2="242.35" y2="205.6" stroke="#ff4040" stroke-width="0.6"/>
<line x1="239.35" y1="230.4" x2="242.35" y2="230.4" stroke="#ff4040" stroke-width="0.6"/>
<line x1="279.25" y1="200.6" x2="279.25" y2="228" stroke="#ff4040" stroke-width="0.6"/>
<line x1="277.75" y1="200.6" x2="280.75" y2="200.6" stroke="#ff4040" stroke-width="0.6"/>
<line x1="277.75" y1="228" x2="280.75" y2="228" stroke="#ff4040" stroke-width="0.6"/>
<rect x="201.15" y="221.15" width="2.7" height="2.7" fill="#ff1a1a" stroke="#ff1a1a" stroke-width="0.8"/>
<rect x="239.5" y="216.45" width="2.7" height="2.7" fill="#ff1a1a" stroke="#ff1a1a" stroke-width="0.8"/>
<rect x="277.9" y="213.15" width="2.7" height="2.7" fill="#ff1a1a" stroke="#ff1a1a" stroke-width="0.8"/>
<line x1="202.5" y1="203.5" x2="202.5" y2="237.2" stroke="#3a3aff" stroke-width="0.6"/>
<line x1="201.0" y1="203.5" x2="204.0" y2="203.5" stroke="#3a3aff" stroke-width="0.6"/>
<line x1="201.0" y1="237.2" x2="204.0" y2="237.2" stroke="#3a3aff" stroke-width="0.6"/>
<line x1="240.85" y1="196.2" x2="240.85" y2="225.7" stroke="#3a3aff" stroke-width="0.6"/>
<line x1="239.35" y1="196.2" x2="242.35" y2="196.2" stroke="#3a3aff" stroke-width="0.6"/>
<line x1="239.35" y1="225.7" x2="242.35" y2="225.7" stroke="#3a3aff" stroke-width="0.6"/>
<line x1="279.25" y1="193.6" x2="279.25" y2="223.3" stroke="#3a3aff" stroke-width="0.6"/>
<line x1="277.75" y1="193.6" x2="280.75" y2="193.6" stroke="#3a3aff" stroke-width="0.6"/>
<line x1="277.75" y1="223.3" x2="280.75" y2="223.3" stroke="#3a3aff" stroke-width="0.6"/>
<polygon points="200.72,221.8 204.28,221.8 202.5,218.72" fill="#1a1aff" stroke="#1a1aff" stroke-width="0.8"/>
<polygon points="239.07,212.5 242.63,212.5 240.85,209.42" fill="#1a1aff" stroke="#1a1aff" stroke-width="0.8"/>
<polygon points="277.47,209.9 281.03,209.9 279.25,206.82" fill="#1a1aff" stroke="#1a1aff" stroke-width="0.8"/>
<line x1="202.5" y1="204" x2="202.5" y2="223.5" stroke="#333" stroke-width="0.6"/>
<line x1="201.0" y1="204" x2="204.0" y2="204" stroke="#333" stroke-width="0.6"/>
<line x1="201.0" y1="223.5" x2="204.0" y2="223.5" stroke="#333" stroke-width="0.6"/>
<line x1="240.85" y1="198.6" x2="240.85" y2="214" stroke="#333" stroke-width="0.6"/>
<line x1="239.35" y1="198.6" x2="242.35" y2="198.6" stroke="#333" stroke-width="0.6"/>
<line x1="239.35" y1="214" x2="242.35" y2="214" stroke="#333" stroke-width="0.6"/>
<line x1="279.25" y1="192.7" x2="279.25" y2="214" stroke="#333" stroke-width="0.6"/>
<line x1="277.75" y1="192.7" x2="280.75" y2="192.7" stroke="#333" stroke-width="0.6"/>
<line x1="277.75" y1="214" x2="280.75" y2="214" stroke="#333" stroke-width="0.6"/>
<polygon points="200.57,216.9 204.43,216.9 202.5,213.57" fill="white" stroke="#222" stroke-width="0.65"/>
<polygon points="238.92,208.2 242.78,208.2 240.85,204.87" fill="white" stroke="#222" stroke-width="0.65"/>
<polygon points="277.32,205.5 281.18,205.5 279.25,202.17" fill="white" stroke="#222" stroke-width="0.65"/>
<line x1="301.5" y1="180.7" x2="309.7" y2="180.7" stroke="#8a8a8a" stroke-width="0.7"/>
<circle cx="305.6" cy="180.7" r="1.3" fill="#8a8a8a" stroke="#8a8a8a" stroke-width="0.8"/>
<text x="312.8" y="183.0" font-size="6.4" font-weight="normal" text-anchor="start" fill="#333" >Untreated</text>
<line x1="301.5" y1="189.63" x2="309.7" y2="189.63" stroke="#ff1a1a" stroke-width="0.7"/>
<rect x="304.3" y="188.33" width="2.6" height="2.6" fill="#ff1a1a" stroke="#ff1a1a" stroke-width="0.8"/>
<text x="312.8" y="191.93" font-size="6.4" font-weight="normal" text-anchor="start" fill="#333" >BXA 10nM</text>
<line x1="301.5" y1="198.56" x2="309.7" y2="198.56" stroke="#1a1aff" stroke-width="0.7"/>
<polygon points="303.88,199.81 307.32,199.81 305.6,196.84" fill="#1a1aff" stroke="#1a1aff" stroke-width="0.8"/>
<text x="312.8" y="200.86" font-size="6.4" font-weight="normal" text-anchor="start" fill="#333" >OSELT 2&#956;M</text>
<line x1="301.5" y1="207.49" x2="309.7" y2="207.49" stroke="#222" stroke-width="0.7" stroke-dasharray="1.5,1"/>
<polygon points="303.74,208.84 307.46,208.84 305.6,205.63" fill="white" stroke="#222" stroke-width="0.65"/>
<text x="312.8" y="209.79" font-size="6.4" font-weight="normal" text-anchor="start" fill="#333" >Combination</text>
<text x="10.9" y="302.6" font-size="10.5" font-weight="bold" text-anchor="start" fill="#000" >C</text>
<text x="49.9" y="302.6" font-size="8.1" font-weight="bold" text-anchor="start" fill="#000" >BXA + PERA ratio 1:31</text>
<line x1="34.4" y1="311.4" x2="34.4" y2="388.6" stroke="#1a1a1a" stroke-width="1.15"/>
<line x1="34.4" y1="388.6" x2="149" y2="388.6" stroke="#8a8a8a" stroke-width="1.3"/>
<line x1="32.6" y1="388.6" x2="34.4" y2="388.6" stroke="#000" stroke-width="0.8"/>
<text x="31.1" y="390.5" font-size="5.1" font-weight="bold" text-anchor="end" fill="#222">10<tspan font-size="3.40" dy="-2.10">0</tspan></text>
<line x1="32.6" y1="380.02" x2="34.4" y2="380.02" stroke="#000" stroke-width="0.8"/>
<text x="31.1" y="381.92" font-size="5.1" font-weight="bold" text-anchor="end" fill="#222">10<tspan font-size="3.40" dy="-2.10">1</tspan></text>
<line x1="32.6" y1="371.44" x2="34.4" y2="371.44" stroke="#000" stroke-width="0.8"/>
<text x="31.1" y="373.34" font-size="5.1" font-weight="bold" text-anchor="end" fill="#222">10<tspan font-size="3.40" dy="-2.10">2</tspan></text>
<line x1="32.6" y1="362.87" x2="34.4" y2="362.87" stroke="#000" stroke-width="0.8"/>
<text x="31.1" y="364.77" font-size="5.1" font-weight="bold" text-anchor="end" fill="#222">10<tspan font-size="3.40" dy="-2.10">3</tspan></text>
<line x1="32.6" y1="354.29" x2="34.4" y2="354.29" stroke="#000" stroke-width="0.8"/>
<text x="31.1" y="356.19" font-size="5.1" font-weight="bold" text-anchor="end" fill="#222">10<tspan font-size="3.40" dy="-2.10">4</tspan></text>
<line x1="32.6" y1="345.71" x2="34.4" y2="345.71" stroke="#000" stroke-width="0.8"/>
<text x="31.1" y="347.61" font-size="5.1" font-weight="bold" text-anchor="end" fill="#222">10<tspan font-size="3.40" dy="-2.10">5</tspan></text>
<line x1="32.6" y1="337.13" x2="34.4" y2="337.13" stroke="#000" stroke-width="0.8"/>
<text x="31.1" y="339.03" font-size="5.1" font-weight="bold" text-anchor="end" fill="#222">10<tspan font-size="3.40" dy="-2.10">6</tspan></text>
<line x1="32.6" y1="328.56" x2="34.4" y2="328.56" stroke="#000" stroke-width="0.8"/>
<text x="31.1" y="330.46" font-size="5.1" font-weight="bold" text-anchor="end" fill="#222">10<tspan font-size="3.40" dy="-2.10">7</tspan></text>
<line x1="32.6" y1="319.98" x2="34.4" y2="319.98" stroke="#000" stroke-width="0.8"/>
<text x="31.1" y="321.88" font-size="5.1" font-weight="bold" text-anchor="end" fill="#222">10<tspan font-size="3.40" dy="-2.10">8</tspan></text>
<line x1="32.6" y1="311.4" x2="34.4" y2="311.4" stroke="#000" stroke-width="0.8"/>
<text x="31.1" y="313.3" font-size="5.1" font-weight="bold" text-anchor="end" fill="#222">10<tspan font-size="3.40" dy="-2.10">9</tspan></text>
<text x="11.65" y="345.9" font-size="6.9" font-weight="bold" text-anchor="middle" fill="#111" transform="rotate(-90 11.65 345.9)" dominant-baseline="central" textLength="37.2" lengthAdjust="spacingAndGlyphs">TCID50/mL</text>
<line x1="53.4" y1="388.6" x2="53.4" y2="390.6" stroke="#555" stroke-width="0.7"/>
<text x="51.66" y="393.23" font-size="6.2" font-weight="bold" text-anchor="end" fill="#000" stroke="#000" stroke-width="0.25" transform="rotate(-45 51.66 393.23)" dominant-baseline="hanging">24 hpi</text>
<line x1="91.6" y1="388.6" x2="91.6" y2="390.6" stroke="#555" stroke-width="0.7"/>
<text x="89.86" y="393.23" font-size="6.2" font-weight="bold" text-anchor="end" fill="#000" stroke="#000" stroke-width="0.25" transform="rotate(-45 89.86 393.23)" dominant-baseline="hanging">48 hpi</text>
<line x1="130.3" y1="388.6" x2="130.3" y2="390.6" stroke="#555" stroke-width="0.7"/>
<text x="128.56" y="393.23" font-size="6.2" font-weight="bold" text-anchor="end" fill="#000" stroke="#000" stroke-width="0.25" transform="rotate(-45 128.56 393.23)" dominant-baseline="hanging">72 hpi</text>
<polyline points="53.40,336.00 91.60,314.80 130.30,319.00" fill="none" stroke="#a8a8a8" stroke-width="0.75"/>
<polyline points="53.40,337.40 91.60,332.50 130.30,331.50" fill="none" stroke="#4848ff" stroke-width="0.75"/>
<polyline points="53.40,345.90 91.60,339.80 130.30,341.00" fill="none" stroke="#ff5050" stroke-width="0.75"/>
<polyline points="53.40,350.30 91.60,346.60 130.30,349.80" fill="none" stroke="#444" stroke-width="0.75" stroke-dasharray="2.2,1.6"/>
<line x1="53.4" y1="333.2" x2="53.4" y2="336" stroke="#999" stroke-width="0.6"/>
<line x1="51.9" y1="333.2" x2="54.9" y2="333.2" stroke="#999" stroke-width="0.6"/>
<line x1="51.9" y1="336" x2="54.9" y2="336" stroke="#999" stroke-width="0.6"/>
<line x1="91.6" y1="312.5" x2="91.6" y2="321.6" stroke="#999" stroke-width="0.6"/>
<line x1="90.1" y1="312.5" x2="93.1" y2="312.5" stroke="#999" stroke-width="0.6"/>
<line x1="90.1" y1="321.6" x2="93.1" y2="321.6" stroke="#999" stroke-width="0.6"/>
<circle cx="53.4" cy="336" r="1.35" fill="#8a8a8a" stroke="#8a8a8a" stroke-width="0.8"/>
<circle cx="91.6" cy="314.8" r="1.35" fill="#8a8a8a" stroke="#8a8a8a" stroke-width="0.8"/>
<circle cx="130.3" cy="319" r="1.35" fill="#8a8a8a" stroke="#8a8a8a" stroke-width="0.8"/>
<line x1="53.4" y1="335.2" x2="53.4" y2="357.5" stroke="#3a3aff" stroke-width="0.6"/>
<line x1="51.9" y1="335.2" x2="54.9" y2="335.2" stroke="#3a3aff" stroke-width="0.6"/>
<line x1="51.9" y1="357.5" x2="54.9" y2="357.5" stroke="#3a3aff" stroke-width="0.6"/>
<line x1="91.6" y1="330.3" x2="91.6" y2="332.5" stroke="#3a3aff" stroke-width="0.6"/>
<line x1="90.1" y1="330.3" x2="93.1" y2="330.3" stroke="#3a3aff" stroke-width="0.6"/>
<line x1="90.1" y1="332.5" x2="93.1" y2="332.5" stroke="#3a3aff" stroke-width="0.6"/>
<line x1="130.3" y1="329.3" x2="130.3" y2="337.5" stroke="#3a3aff" stroke-width="0.6"/>
<line x1="128.8" y1="329.3" x2="131.8" y2="329.3" stroke="#3a3aff" stroke-width="0.6"/>
<line x1="128.8" y1="337.5" x2="131.8" y2="337.5" stroke="#3a3aff" stroke-width="0.6"/>
<polygon points="53.4,335.78 55.02,337.4 53.4,339.02 51.78,337.4" fill="#1a1aff" stroke="#1a1aff" stroke-width="0.8"/>
<polygon points="91.6,330.88 93.22,332.5 91.6,334.12 89.98,332.5" fill="#1a1aff" stroke="#1a1aff" stroke-width="0.8"/>
<polygon points="130.3,329.88 131.92,331.5 130.3,333.12 128.68,331.5" fill="#1a1aff" stroke="#1a1aff" stroke-width="0.8"/>
<line x1="53.4" y1="342.3" x2="53.4" y2="345.9" stroke="#ff4040" stroke-width="0.6"/>
<line x1="51.9" y1="342.3" x2="54.9" y2="342.3" stroke="#ff4040" stroke-width="0.6"/>
<line x1="51.9" y1="345.9" x2="54.9" y2="345.9" stroke="#ff4040" stroke-width="0.6"/>
<line x1="91.6" y1="336.5" x2="91.6" y2="339.8" stroke="#ff4040" stroke-width="0.6"/>
<line x1="90.1" y1="336.5" x2="93.1" y2="336.5" stroke="#ff4040" stroke-width="0.6"/>
<line x1="90.1" y1="339.8" x2="93.1" y2="339.8" stroke="#ff4040" stroke-width="0.6"/>
<line x1="130.3" y1="338.5" x2="130.3" y2="341" stroke="#ff4040" stroke-width="0.6"/>
<line x1="128.8" y1="338.5" x2="131.8" y2="338.5" stroke="#ff4040" stroke-width="0.6"/>
<line x1="128.8" y1="341" x2="131.8" y2="341" stroke="#ff4040" stroke-width="0.6"/>
<rect x="52.05" y="344.55" width="2.7" height="2.7" fill="#ff1a1a" stroke="#ff1a1a" stroke-width="0.8"/>
<rect x="90.25" y="338.45" width="2.7" height="2.7" fill="#ff1a1a" stroke="#ff1a1a" stroke-width="0.8"/>
<rect x="128.95" y="339.65" width="2.7" height="2.7" fill="#ff1a1a" stroke="#ff1a1a" stroke-width="0.8"/>
<line x1="53.4" y1="350.3" x2="53.4" y2="360.3" stroke="#333" stroke-width="0.6"/>
<line x1="51.9" y1="350.3" x2="54.9" y2="350.3" stroke="#333" stroke-width="0.6"/>
<line x1="51.9" y1="360.3" x2="54.9" y2="360.3" stroke="#333" stroke-width="0.6"/>
<line x1="91.6" y1="343.7" x2="91.6" y2="346.6" stroke="#333" stroke-width="0.6"/>
<line x1="90.1" y1="343.7" x2="93.1" y2="343.7" stroke="#333" stroke-width="0.6"/>
<line x1="90.1" y1="346.6" x2="93.1" y2="346.6" stroke="#333" stroke-width="0.6"/>
<polygon points="53.4,348.19 55.51,350.3 53.4,352.41 51.29,350.3" fill="white" stroke="#222" stroke-width="0.65"/>
<polygon points="91.6,344.49 93.71,346.6 91.6,348.71 89.49,346.6" fill="white" stroke="#222" stroke-width="0.65"/>
<polygon points="130.3,347.69 132.41,349.8 130.3,351.91 128.19,349.8" fill="white" stroke="#222" stroke-width="0.65"/>
<text x="137.3" y="354.8" font-size="9.2" font-weight="bold" text-anchor="start" fill="#7a7a7a" >***</text>
<line x1="180.4" y1="312" x2="180.4" y2="388.8" stroke="#777" stroke-width="1.05"/>
<line x1="180.4" y1="388.8" x2="296" y2="388.8" stroke="#8a8a8a" stroke-width="1.2"/>
<line x1="178.4" y1="388.8" x2="180.4" y2="388.8" stroke="#333" stroke-width="0.8"/>
<text x="177.9" y="390.45" font-size="5.6" font-weight="bold" text-anchor="end" fill="#222" >0</text>
<line x1="178.4" y1="363.2" x2="180.4" y2="363.2" stroke="#333" stroke-width="0.8"/>
<text x="177.9" y="364.85" font-size="5.6" font-weight="bold" text-anchor="end" fill="#222" >1</text>
<line x1="178.4" y1="337.6" x2="180.4" y2="337.6" stroke="#333" stroke-width="0.8"/>
<text x="177.9" y="339.25" font-size="5.6" font-weight="bold" text-anchor="end" fill="#222" >2</text>
<line x1="178.4" y1="312.0" x2="180.4" y2="312.0" stroke="#333" stroke-width="0.8"/>
<text x="177.9" y="313.65" font-size="5.6" font-weight="bold" text-anchor="end" fill="#222" >3</text>
<line x1="179.0" y1="388.8" x2="180.1" y2="388.8" stroke="#111" stroke-width="0.65"/>
<line x1="179.0" y1="386.24" x2="180.1" y2="386.24" stroke="#111" stroke-width="0.65"/>
<line x1="179.0" y1="383.68" x2="180.1" y2="383.68" stroke="#111" stroke-width="0.65"/>
<line x1="179.0" y1="381.12" x2="180.1" y2="381.12" stroke="#111" stroke-width="0.65"/>
<line x1="179.0" y1="378.56" x2="180.1" y2="378.56" stroke="#111" stroke-width="0.65"/>
<line x1="179.0" y1="376.0" x2="180.1" y2="376.0" stroke="#111" stroke-width="0.65"/>
<line x1="179.0" y1="373.44" x2="180.1" y2="373.44" stroke="#111" stroke-width="0.65"/>
<line x1="179.0" y1="370.88" x2="180.1" y2="370.88" stroke="#111" stroke-width="0.65"/>
<line x1="179.0" y1="368.32" x2="180.1" y2="368.32" stroke="#111" stroke-width="0.65"/>
<line x1="179.0" y1="365.76" x2="180.1" y2="365.76" stroke="#111" stroke-width="0.65"/>
<line x1="179.0" y1="363.2" x2="180.1" y2="363.2" stroke="#111" stroke-width="0.65"/>
<line x1="179.0" y1="360.64" x2="180.1" y2="360.64" stroke="#111" stroke-width="0.65"/>
<line x1="179.0" y1="358.08" x2="180.1" y2="358.08" stroke="#111" stroke-width="0.65"/>
<line x1="179.0" y1="355.52" x2="180.1" y2="355.52" stroke="#111" stroke-width="0.65"/>
<line x1="179.0" y1="352.96" x2="180.1" y2="352.96" stroke="#111" stroke-width="0.65"/>
<line x1="179.0" y1="350.4" x2="180.1" y2="350.4" stroke="#111" stroke-width="0.65"/>
<line x1="179.0" y1="347.84" x2="180.1" y2="347.84" stroke="#111" stroke-width="0.65"/>
<line x1="179.0" y1="345.28" x2="180.1" y2="345.28" stroke="#111" stroke-width="0.65"/>
<line x1="179.0" y1="342.72" x2="180.1" y2="342.72" stroke="#111" stroke-width="0.65"/>
<line x1="179.0" y1="340.16" x2="180.1" y2="340.16" stroke="#111" stroke-width="0.65"/>
<line x1="179.0" y1="337.6" x2="180.1" y2="337.6" stroke="#111" stroke-width="0.65"/>
<line x1="179.0" y1="335.04" x2="180.1" y2="335.04" stroke="#111" stroke-width="0.65"/>
<line x1="179.0" y1="332.48" x2="180.1" y2="332.48" stroke="#111" stroke-width="0.65"/>
<line x1="179.0" y1="329.92" x2="180.1" y2="329.92" stroke="#111" stroke-width="0.65"/>
<line x1="179.0" y1="327.36" x2="180.1" y2="327.36" stroke="#111" stroke-width="0.65"/>
<line x1="179.0" y1="324.8" x2="180.1" y2="324.8" stroke="#111" stroke-width="0.65"/>
<line x1="179.0" y1="322.24" x2="180.1" y2="322.24" stroke="#111" stroke-width="0.65"/>
<line x1="179.0" y1="319.68" x2="180.1" y2="319.68" stroke="#111" stroke-width="0.65"/>
<line x1="179.0" y1="317.12" x2="180.1" y2="317.12" stroke="#111" stroke-width="0.65"/>
<line x1="179.0" y1="314.56" x2="180.1" y2="314.56" stroke="#111" stroke-width="0.65"/>
<line x1="179.0" y1="312.0" x2="180.1" y2="312.0" stroke="#111" stroke-width="0.65"/>
<text x="167.6" y="350.6" font-size="6.6" font-weight="bold" text-anchor="middle" fill="#111" stroke="#111" stroke-width="0.2" transform="rotate(-90 167.6 350.6)" dominant-baseline="central" textLength="25.6" lengthAdjust="spacingAndGlyphs">&#916; TEER</text>
<line x1="199.8" y1="388.8" x2="199.8" y2="390.8" stroke="#555" stroke-width="0.7"/>
<text x="199.51" y="393.78" font-size="6.2" font-weight="bold" text-anchor="end" fill="#000" stroke="#000" stroke-width="0.25" transform="rotate(-45 199.51 393.78)" dominant-baseline="hanging">24 hpi</text>
<line x1="238.3" y1="388.8" x2="238.3" y2="390.8" stroke="#555" stroke-width="0.7"/>
<text x="238.01" y="393.78" font-size="6.2" font-weight="bold" text-anchor="end" fill="#000" stroke="#000" stroke-width="0.25" transform="rotate(-45 238.01 393.78)" dominant-baseline="hanging">48 hpi</text>
<line x1="277" y1="388.8" x2="277" y2="390.8" stroke="#555" stroke-width="0.7"/>
<text x="276.71" y="393.78" font-size="6.2" font-weight="bold" text-anchor="end" fill="#000" stroke="#000" stroke-width="0.25" transform="rotate(-45 276.71 393.78)" dominant-baseline="hanging">72 hpi</text>
<polyline points="199.80,348.90 238.30,362.40 277.00,369.70" fill="none" stroke="#a8a8a8" stroke-width="0.75"/>
<polyline points="199.80,348.90 238.30,342.80 277.00,338.40" fill="none" stroke="#ff5050" stroke-width="0.75"/>
<polyline points="199.80,365.40 238.30,363.20 277.00,360.80" fill="none" stroke="#4848ff" stroke-width="0.75"/>
<polyline points="199.80,365.40 238.30,363.20 277.00,357.10" fill="none" stroke="#444" stroke-width="0.75" stroke-dasharray="2.2,1.6"/>
<line x1="199.8" y1="329.4" x2="199.8" y2="368.3" stroke="#999" stroke-width="0.6"/>
<line x1="198.3" y1="329.4" x2="201.3" y2="329.4" stroke="#999" stroke-width="0.6"/>
<line x1="198.3" y1="368.3" x2="201.3" y2="368.3" stroke="#999" stroke-width="0.6"/>
<line x1="238.3" y1="345.3" x2="238.3" y2="381.3" stroke="#999" stroke-width="0.6"/>
<line x1="236.8" y1="345.3" x2="239.8" y2="345.3" stroke="#999" stroke-width="0.6"/>
<line x1="236.8" y1="381.3" x2="239.8" y2="381.3" stroke="#999" stroke-width="0.6"/>
<line x1="277" y1="359.4" x2="277" y2="379.7" stroke="#999" stroke-width="0.6"/>
<line x1="275.5" y1="359.4" x2="278.5" y2="359.4" stroke="#999" stroke-width="0.6"/>
<line x1="275.5" y1="379.7" x2="278.5" y2="379.7" stroke="#999" stroke-width="0.6"/>
<circle cx="199.8" cy="348.9" r="1.35" fill="#8a8a8a" stroke="#8a8a8a" stroke-width="0.8"/>
<circle cx="238.3" cy="362.4" r="1.35" fill="#8a8a8a" stroke="#8a8a8a" stroke-width="0.8"/>
<circle cx="277" cy="369.7" r="1.35" fill="#8a8a8a" stroke="#8a8a8a" stroke-width="0.8"/>
<line x1="199.8" y1="335.3" x2="199.8" y2="362.2" stroke="#ff4040" stroke-width="0.6"/>
<line x1="198.3" y1="335.3" x2="201.3" y2="335.3" stroke="#ff4040" stroke-width="0.6"/>
<line x1="198.3" y1="362.2" x2="201.3" y2="362.2" stroke="#ff4040" stroke-width="0.6"/>
<line x1="238.3" y1="326.2" x2="238.3" y2="359.9" stroke="#ff4040" stroke-width="0.6"/>
<line x1="236.8" y1="326.2" x2="239.8" y2="326.2" stroke="#ff4040" stroke-width="0.6"/>
<line x1="236.8" y1="359.9" x2="239.8" y2="359.9" stroke="#ff4040" stroke-width="0.6"/>
<line x1="277" y1="320.2" x2="277" y2="357.1" stroke="#ff4040" stroke-width="0.6"/>
<line x1="275.5" y1="320.2" x2="278.5" y2="320.2" stroke="#ff4040" stroke-width="0.6"/>
<line x1="275.5" y1="357.1" x2="278.5" y2="357.1" stroke="#ff4040" stroke-width="0.6"/>
<rect x="198.45" y="347.55" width="2.7" height="2.7" fill="#ff1a1a" stroke="#ff1a1a" stroke-width="0.8"/>
<rect x="236.95" y="341.45" width="2.7" height="2.7" fill="#ff1a1a" stroke="#ff1a1a" stroke-width="0.8"/>
<rect x="275.65" y="337.05" width="2.7" height="2.7" fill="#ff1a1a" stroke="#ff1a1a" stroke-width="0.8"/>
<line x1="199.8" y1="363.9" x2="199.8" y2="367" stroke="#3a3aff" stroke-width="0.6"/>
<line x1="198.3" y1="363.9" x2="201.3" y2="363.9" stroke="#3a3aff" stroke-width="0.6"/>
<line x1="198.3" y1="367" x2="201.3" y2="367" stroke="#3a3aff" stroke-width="0.6"/>
<line x1="238.3" y1="361.7" x2="238.3" y2="364.7" stroke="#3a3aff" stroke-width="0.6"/>
<line x1="236.8" y1="361.7" x2="239.8" y2="361.7" stroke="#3a3aff" stroke-width="0.6"/>
<line x1="236.8" y1="364.7" x2="239.8" y2="364.7" stroke="#3a3aff" stroke-width="0.6"/>
<line x1="277" y1="359.2" x2="277" y2="362.4" stroke="#3a3aff" stroke-width="0.6"/>
<line x1="275.5" y1="359.2" x2="278.5" y2="359.2" stroke="#3a3aff" stroke-width="0.6"/>
<line x1="275.5" y1="362.4" x2="278.5" y2="362.4" stroke="#3a3aff" stroke-width="0.6"/>
<polygon points="199.8,363.78 201.42,365.4 199.8,367.02 198.18,365.4" fill="#1a1aff" stroke="#1a1aff" stroke-width="0.8"/>
<polygon points="238.3,361.58 239.92,363.2 238.3,364.82 236.68,363.2" fill="#1a1aff" stroke="#1a1aff" stroke-width="0.8"/>
<polygon points="277,359.18 278.62,360.8 277,362.42 275.38,360.8" fill="#1a1aff" stroke="#1a1aff" stroke-width="0.8"/>
<line x1="199.8" y1="363.9" x2="199.8" y2="367" stroke="#333" stroke-width="0.6"/>
<line x1="198.3" y1="363.9" x2="201.3" y2="363.9" stroke="#333" stroke-width="0.6"/>
<line x1="198.3" y1="367" x2="201.3" y2="367" stroke="#333" stroke-width="0.6"/>
<line x1="238.3" y1="361.2" x2="238.3" y2="365.2" stroke="#333" stroke-width="0.6"/>
<line x1="236.8" y1="361.2" x2="239.8" y2="361.2" stroke="#333" stroke-width="0.6"/>
<line x1="236.8" y1="365.2" x2="239.8" y2="365.2" stroke="#333" stroke-width="0.6"/>
<line x1="277" y1="355.5" x2="277" y2="358.7" stroke="#333" stroke-width="0.6"/>
<line x1="275.5" y1="355.5" x2="278.5" y2="355.5" stroke="#333" stroke-width="0.6"/>
<line x1="275.5" y1="358.7" x2="278.5" y2="358.7" stroke="#333" stroke-width="0.6"/>
<polygon points="199.8,363.29 201.91,365.4 199.8,367.51 197.69,365.4" fill="white" stroke="#222" stroke-width="0.65"/>
<polygon points="238.3,361.09 240.41,363.2 238.3,365.31 236.19,363.2" fill="white" stroke="#222" stroke-width="0.65"/>
<polygon points="277,354.99 279.11,357.1 277,359.21 274.89,357.1" fill="white" stroke="#222" stroke-width="0.65"/>
<line x1="300.3" y1="316.9" x2="308.5" y2="316.9" stroke="#8a8a8a" stroke-width="0.7"/>
<circle cx="304.4" cy="316.9" r="1.3" fill="#8a8a8a" stroke="#8a8a8a" stroke-width="0.8"/>
<text x="312.8" y="319.2" font-size="6.4" font-weight="normal" text-anchor="start" fill="#333" >Untreated</text>
<line x1="300.3" y1="325.85" x2="308.5" y2="325.85" stroke="#ff1a1a" stroke-width="0.7"/>
<rect x="303.1" y="324.55" width="2.6" height="2.6" fill="#ff1a1a" stroke="#ff1a1a" stroke-width="0.8"/>
<text x="312.8" y="328.15" font-size="6.4" font-weight="normal" text-anchor="start" fill="#333" >BXA 10nM</text>
<line x1="300.3" y1="334.8" x2="308.5" y2="334.8" stroke="#1a1aff" stroke-width="0.7"/>
<polygon points="304.4,333.24 305.96,334.8 304.4,336.36 302.84,334.8" fill="#1a1aff" stroke="#1a1aff" stroke-width="0.8"/>
<text x="312.8" y="337.1" font-size="6.4" font-weight="normal" text-anchor="start" fill="#333" >PERA 310nM</text>
<line x1="300.3" y1="343.75" x2="308.5" y2="343.75" stroke="#222" stroke-width="0.7" stroke-dasharray="1.5,1"/>
<polygon points="304.4,341.72 306.43,343.75 304.4,345.78 302.37,343.75" fill="white" stroke="#222" stroke-width="0.65"/>
<text x="312.8" y="346.05" font-size="6.4" font-weight="normal" text-anchor="start" fill="#333" >Combination</text>
<text x="10.9" y="437.6" font-size="10.5" font-weight="bold" text-anchor="start" fill="#000" >D</text>
<text x="46.3" y="437.6" font-size="8.1" font-weight="bold" text-anchor="start" fill="#000" >BXA + FAVI ratio 1:8333</text>
<line x1="32.1" y1="446.6" x2="32.1" y2="524.1" stroke="#1a1a1a" stroke-width="1.15"/>
<line x1="32.1" y1="524.1" x2="147.9" y2="524.1" stroke="#8a8a8a" stroke-width="1.3"/>
<line x1="30.3" y1="524.1" x2="32.1" y2="524.1" stroke="#000" stroke-width="0.8"/>
<text x="29.9" y="526.41" font-size="6.2" font-weight="bold" text-anchor="end" fill="#222">10<tspan font-size="4.14" dy="-2.55">0</tspan></text>
<line x1="30.3" y1="515.49" x2="32.1" y2="515.49" stroke="#000" stroke-width="0.8"/>
<text x="29.9" y="517.8" font-size="6.2" font-weight="bold" text-anchor="end" fill="#222">10<tspan font-size="4.14" dy="-2.55">1</tspan></text>
<line x1="30.3" y1="506.88" x2="32.1" y2="506.88" stroke="#000" stroke-width="0.8"/>
<text x="29.9" y="509.19" font-size="6.2" font-weight="bold" text-anchor="end" fill="#222">10<tspan font-size="4.14" dy="-2.55">2</tspan></text>
<line x1="30.3" y1="498.27" x2="32.1" y2="498.27" stroke="#000" stroke-width="0.8"/>
<text x="29.9" y="500.58" font-size="6.2" font-weight="bold" text-anchor="end" fill="#222">10<tspan font-size="4.14" dy="-2.55">3</tspan></text>
<line x1="30.3" y1="489.66" x2="32.1" y2="489.66" stroke="#000" stroke-width="0.8"/>
<text x="29.9" y="491.97" font-size="6.2" font-weight="bold" text-anchor="end" fill="#222">10<tspan font-size="4.14" dy="-2.55">4</tspan></text>
<line x1="30.3" y1="481.04" x2="32.1" y2="481.04" stroke="#000" stroke-width="0.8"/>
<text x="29.9" y="483.35" font-size="6.2" font-weight="bold" text-anchor="end" fill="#222">10<tspan font-size="4.14" dy="-2.55">5</tspan></text>
<line x1="30.3" y1="472.43" x2="32.1" y2="472.43" stroke="#000" stroke-width="0.8"/>
<text x="29.9" y="474.74" font-size="6.2" font-weight="bold" text-anchor="end" fill="#222">10<tspan font-size="4.14" dy="-2.55">6</tspan></text>
<line x1="30.3" y1="463.82" x2="32.1" y2="463.82" stroke="#000" stroke-width="0.8"/>
<text x="29.9" y="466.13" font-size="6.2" font-weight="bold" text-anchor="end" fill="#222">10<tspan font-size="4.14" dy="-2.55">7</tspan></text>
<line x1="30.3" y1="455.21" x2="32.1" y2="455.21" stroke="#000" stroke-width="0.8"/>
<text x="29.9" y="457.52" font-size="6.2" font-weight="bold" text-anchor="end" fill="#222">10<tspan font-size="4.14" dy="-2.55">8</tspan></text>
<line x1="30.3" y1="446.6" x2="32.1" y2="446.6" stroke="#000" stroke-width="0.8"/>
<text x="29.9" y="448.91" font-size="6.2" font-weight="bold" text-anchor="end" fill="#222">10<tspan font-size="4.14" dy="-2.55">9</tspan></text>
<text x="9.5" y="480.7" font-size="6.9" font-weight="bold" text-anchor="middle" fill="#111" transform="rotate(-90 9.5 480.7)" dominant-baseline="central" textLength="37.2" lengthAdjust="spacingAndGlyphs">TCID50/mL</text>
<line x1="51.85" y1="524.1" x2="51.85" y2="526.1" stroke="#555" stroke-width="0.7"/>
<text x="51.95" y="527.95" font-size="6.2" font-weight="bold" text-anchor="end" fill="#000" stroke="#000" stroke-width="0.25" transform="rotate(-45 51.95 527.95)" dominant-baseline="hanging">24 hpi</text>
<line x1="90.3" y1="524.1" x2="90.3" y2="526.1" stroke="#555" stroke-width="0.7"/>
<text x="90.4" y="527.95" font-size="6.2" font-weight="bold" text-anchor="end" fill="#000" stroke="#000" stroke-width="0.25" transform="rotate(-45 90.4 527.95)" dominant-baseline="hanging">48 hpi</text>
<line x1="128.8" y1="524.1" x2="128.8" y2="526.1" stroke="#555" stroke-width="0.7"/>
<text x="128.9" y="527.95" font-size="6.2" font-weight="bold" text-anchor="end" fill="#000" stroke="#000" stroke-width="0.25" transform="rotate(-45 128.9 527.95)" dominant-baseline="hanging">72 hpi</text>
<polyline points="51.85,470.50 90.30,449.80 128.80,453.80" fill="none" stroke="#a8a8a8" stroke-width="0.75"/>
<polyline points="51.85,484.70 90.30,465.70 128.80,454.20" fill="none" stroke="#4848ff" stroke-width="0.75"/>
<polyline points="51.85,480.60 90.30,474.80 128.80,476.00" fill="none" stroke="#ff5050" stroke-width="0.75"/>
<polyline points="51.85,474.20 90.30,480.10 128.80,488.00" fill="none" stroke="#444" stroke-width="0.75" stroke-dasharray="2.2,1.6"/>
<line x1="51.85" y1="468.4" x2="51.85" y2="470.5" stroke="#999" stroke-width="0.6"/>
<line x1="50.35" y1="468.4" x2="53.35" y2="468.4" stroke="#999" stroke-width="0.6"/>
<line x1="50.35" y1="470.5" x2="53.35" y2="470.5" stroke="#999" stroke-width="0.6"/>
<line x1="90.3" y1="447.5" x2="90.3" y2="456.5" stroke="#999" stroke-width="0.6"/>
<line x1="88.8" y1="447.5" x2="91.8" y2="447.5" stroke="#999" stroke-width="0.6"/>
<line x1="88.8" y1="456.5" x2="91.8" y2="456.5" stroke="#999" stroke-width="0.6"/>
<circle cx="51.85" cy="470.5" r="1.35" fill="#8a8a8a" stroke="#8a8a8a" stroke-width="0.8"/>
<circle cx="90.3" cy="449.8" r="1.35" fill="#8a8a8a" stroke="#8a8a8a" stroke-width="0.8"/>
<circle cx="128.8" cy="453.8" r="1.35" fill="#8a8a8a" stroke="#8a8a8a" stroke-width="0.8"/>
<line x1="51.85" y1="484.7" x2="51.85" y2="490.4" stroke="#3a3aff" stroke-width="0.6"/>
<line x1="50.35" y1="484.7" x2="53.35" y2="484.7" stroke="#3a3aff" stroke-width="0.6"/>
<line x1="50.35" y1="490.4" x2="53.35" y2="490.4" stroke="#3a3aff" stroke-width="0.6"/>
<line x1="90.3" y1="463.7" x2="90.3" y2="474.8" stroke="#3a3aff" stroke-width="0.6"/>
<line x1="88.8" y1="463.7" x2="91.8" y2="463.7" stroke="#3a3aff" stroke-width="0.6"/>
<line x1="88.8" y1="474.8" x2="91.8" y2="474.8" stroke="#3a3aff" stroke-width="0.6"/>
<line x1="128.8" y1="451.8" x2="128.8" y2="465.5" stroke="#3a3aff" stroke-width="0.6"/>
<line x1="127.3" y1="451.8" x2="130.3" y2="451.8" stroke="#3a3aff" stroke-width="0.6"/>
<line x1="127.3" y1="465.5" x2="130.3" y2="465.5" stroke="#3a3aff" stroke-width="0.6"/>
<circle cx="51.85" cy="484.7" r="1.35" fill="#1a1aff" stroke="#1a1aff" stroke-width="0.8"/>
<circle cx="90.3" cy="465.7" r="1.35" fill="#1a1aff" stroke="#1a1aff" stroke-width="0.8"/>
<circle cx="128.8" cy="454.2" r="1.35" fill="#1a1aff" stroke="#1a1aff" stroke-width="0.8"/>
<line x1="51.85" y1="477.5" x2="51.85" y2="480.6" stroke="#ff4040" stroke-width="0.6"/>
<line x1="50.35" y1="477.5" x2="53.35" y2="477.5" stroke="#ff4040" stroke-width="0.6"/>
<line x1="50.35" y1="480.6" x2="53.35" y2="480.6" stroke="#ff4040" stroke-width="0.6"/>
<line x1="90.3" y1="471.5" x2="90.3" y2="474.8" stroke="#ff4040" stroke-width="0.6"/>
<line x1="88.8" y1="471.5" x2="91.8" y2="471.5" stroke="#ff4040" stroke-width="0.6"/>
<line x1="88.8" y1="474.8" x2="91.8" y2="474.8" stroke="#ff4040" stroke-width="0.6"/>
<line x1="128.8" y1="473.5" x2="128.8" y2="476" stroke="#ff4040" stroke-width="0.6"/>
<line x1="127.3" y1="473.5" x2="130.3" y2="473.5" stroke="#ff4040" stroke-width="0.6"/>
<line x1="127.3" y1="476" x2="130.3" y2="476" stroke="#ff4040" stroke-width="0.6"/>
<rect x="50.5" y="479.25" width="2.7" height="2.7" fill="#ff1a1a" stroke="#ff1a1a" stroke-width="0.8"/>
<rect x="88.95" y="473.45" width="2.7" height="2.7" fill="#ff1a1a" stroke="#ff1a1a" stroke-width="0.8"/>
<rect x="127.45" y="474.65" width="2.7" height="2.7" fill="#ff1a1a" stroke="#ff1a1a" stroke-width="0.8"/>
<line x1="51.85" y1="470.5" x2="51.85" y2="474.2" stroke="#333" stroke-width="0.6"/>
<line x1="50.35" y1="470.5" x2="53.35" y2="470.5" stroke="#333" stroke-width="0.6"/>
<line x1="50.35" y1="474.2" x2="53.35" y2="474.2" stroke="#333" stroke-width="0.6"/>
<line x1="90.3" y1="478" x2="90.3" y2="480.1" stroke="#333" stroke-width="0.6"/>
<line x1="88.8" y1="478" x2="91.8" y2="478" stroke="#333" stroke-width="0.6"/>
<line x1="88.8" y1="480.1" x2="91.8" y2="480.1" stroke="#333" stroke-width="0.6"/>
<line x1="128.8" y1="484.5" x2="128.8" y2="488" stroke="#333" stroke-width="0.6"/>
<line x1="127.3" y1="484.5" x2="130.3" y2="484.5" stroke="#333" stroke-width="0.6"/>
<line x1="127.3" y1="488" x2="130.3" y2="488" stroke="#333" stroke-width="0.6"/>
<circle cx="51.85" cy="474.2" r="1.76" fill="white" stroke="#222" stroke-width="0.65"/>
<circle cx="90.3" cy="480.1" r="1.76" fill="white" stroke="#222" stroke-width="0.65"/>
<circle cx="128.8" cy="488" r="1.76" fill="white" stroke="#222" stroke-width="0.65"/>
<text x="135.5" y="493.8" font-size="9.2" font-weight="bold" text-anchor="start" fill="#7a7a7a" >***</text>
<line x1="181.7" y1="447" x2="181.7" y2="523.8" stroke="#777" stroke-width="1.05"/>
<line x1="181.7" y1="523.8" x2="298" y2="523.8" stroke="#8a8a8a" stroke-width="1.2"/>
<line x1="179.7" y1="523.8" x2="181.7" y2="523.8" stroke="#333" stroke-width="0.8"/>
<text x="178.9" y="526.15" font-size="5.6" font-weight="bold" text-anchor="end" fill="#222" >0</text>
<line x1="179.7" y1="504.6" x2="181.7" y2="504.6" stroke="#333" stroke-width="0.8"/>
<text x="178.9" y="506.95" font-size="5.6" font-weight="bold" text-anchor="end" fill="#222" >1</text>
<line x1="179.7" y1="485.4" x2="181.7" y2="485.4" stroke="#333" stroke-width="0.8"/>
<text x="178.9" y="487.75" font-size="5.6" font-weight="bold" text-anchor="end" fill="#222" >2</text>
<line x1="179.7" y1="466.2" x2="181.7" y2="466.2" stroke="#333" stroke-width="0.8"/>
<text x="178.9" y="468.55" font-size="5.6" font-weight="bold" text-anchor="end" fill="#222" >3</text>
<line x1="179.7" y1="447.0" x2="181.7" y2="447.0" stroke="#333" stroke-width="0.8"/>
<text x="178.9" y="449.35" font-size="5.6" font-weight="bold" text-anchor="end" fill="#222" >4</text>
<line x1="180.3" y1="523.8" x2="181.4" y2="523.8" stroke="#111" stroke-width="0.65"/>
<line x1="180.3" y1="521.88" x2="181.4" y2="521.88" stroke="#111" stroke-width="0.65"/>
<line x1="180.3" y1="519.96" x2="181.4" y2="519.96" stroke="#111" stroke-width="0.65"/>
<line x1="180.3" y1="518.04" x2="181.4" y2="518.04" stroke="#111" stroke-width="0.65"/>
<line x1="180.3" y1="516.12" x2="181.4" y2="516.12" stroke="#111" stroke-width="0.65"/>
<line x1="180.3" y1="514.2" x2="181.4" y2="514.2" stroke="#111" stroke-width="0.65"/>
<line x1="180.3" y1="512.28" x2="181.4" y2="512.28" stroke="#111" stroke-width="0.65"/>
<line x1="180.3" y1="510.36" x2="181.4" y2="510.36" stroke="#111" stroke-width="0.65"/>
<line x1="180.3" y1="508.44" x2="181.4" y2="508.44" stroke="#111" stroke-width="0.65"/>
<line x1="180.3" y1="506.52" x2="181.4" y2="506.52" stroke="#111" stroke-width="0.65"/>
<line x1="180.3" y1="504.6" x2="181.4" y2="504.6" stroke="#111" stroke-width="0.65"/>
<line x1="180.3" y1="502.68" x2="181.4" y2="502.68" stroke="#111" stroke-width="0.65"/>
<line x1="180.3" y1="500.76" x2="181.4" y2="500.76" stroke="#111" stroke-width="0.65"/>
<line x1="180.3" y1="498.84" x2="181.4" y2="498.84" stroke="#111" stroke-width="0.65"/>
<line x1="180.3" y1="496.92" x2="181.4" y2="496.92" stroke="#111" stroke-width="0.65"/>
<line x1="180.3" y1="495.0" x2="181.4" y2="495.0" stroke="#111" stroke-width="0.65"/>
<line x1="180.3" y1="493.08" x2="181.4" y2="493.08" stroke="#111" stroke-width="0.65"/>
<line x1="180.3" y1="491.16" x2="181.4" y2="491.16" stroke="#111" stroke-width="0.65"/>
<line x1="180.3" y1="489.24" x2="181.4" y2="489.24" stroke="#111" stroke-width="0.65"/>
<line x1="180.3" y1="487.32" x2="181.4" y2="487.32" stroke="#111" stroke-width="0.65"/>
<line x1="180.3" y1="485.4" x2="181.4" y2="485.4" stroke="#111" stroke-width="0.65"/>
<line x1="180.3" y1="483.48" x2="181.4" y2="483.48" stroke="#111" stroke-width="0.65"/>
<line x1="180.3" y1="481.56" x2="181.4" y2="481.56" stroke="#111" stroke-width="0.65"/>
<line x1="180.3" y1="479.64" x2="181.4" y2="479.64" stroke="#111" stroke-width="0.65"/>
<line x1="180.3" y1="477.72" x2="181.4" y2="477.72" stroke="#111" stroke-width="0.65"/>
<line x1="180.3" y1="475.8" x2="181.4" y2="475.8" stroke="#111" stroke-width="0.65"/>
<line x1="180.3" y1="473.88" x2="181.4" y2="473.88" stroke="#111" stroke-width="0.65"/>
<line x1="180.3" y1="471.96" x2="181.4" y2="471.96" stroke="#111" stroke-width="0.65"/>
<line x1="180.3" y1="470.04" x2="181.4" y2="470.04" stroke="#111" stroke-width="0.65"/>
<line x1="180.3" y1="468.12" x2="181.4" y2="468.12" stroke="#111" stroke-width="0.65"/>
<line x1="180.3" y1="466.2" x2="181.4" y2="466.2" stroke="#111" stroke-width="0.65"/>
<line x1="180.3" y1="464.28" x2="181.4" y2="464.28" stroke="#111" stroke-width="0.65"/>
<line x1="180.3" y1="462.36" x2="181.4" y2="462.36" stroke="#111" stroke-width="0.65"/>
<line x1="180.3" y1="460.44" x2="181.4" y2="460.44" stroke="#111" stroke-width="0.65"/>
<line x1="180.3" y1="458.52" x2="181.4" y2="458.52" stroke="#111" stroke-width="0.65"/>
<line x1="180.3" y1="456.6" x2="181.4" y2="456.6" stroke="#111" stroke-width="0.65"/>
<line x1="180.3" y1="454.68" x2="181.4" y2="454.68" stroke="#111" stroke-width="0.65"/>
<line x1="180.3" y1="452.76" x2="181.4" y2="452.76" stroke="#111" stroke-width="0.65"/>
<line x1="180.3" y1="450.84" x2="181.4" y2="450.84" stroke="#111" stroke-width="0.65"/>
<line x1="180.3" y1="448.92" x2="181.4" y2="448.92" stroke="#111" stroke-width="0.65"/>
<line x1="180.3" y1="447.0" x2="181.4" y2="447.0" stroke="#111" stroke-width="0.65"/>
<text x="167.7" y="486.6" font-size="6.6" font-weight="bold" text-anchor="middle" fill="#111" stroke="#111" stroke-width="0.2" transform="rotate(-90 167.7 486.6)" dominant-baseline="central" textLength="25.6" lengthAdjust="spacingAndGlyphs">&#916; TEER</text>
<line x1="201.35" y1="523.8" x2="201.35" y2="525.8" stroke="#555" stroke-width="0.7"/>
<text x="199.48" y="527.16" font-size="6.2" font-weight="bold" text-anchor="end" fill="#000" stroke="#000" stroke-width="0.25" transform="rotate(-45 199.48 527.16)" dominant-baseline="hanging">24 hpi</text>
<line x1="239.65" y1="523.8" x2="239.65" y2="525.8" stroke="#555" stroke-width="0.7"/>
<text x="237.78" y="527.16" font-size="6.2" font-weight="bold" text-anchor="end" fill="#000" stroke="#000" stroke-width="0.25" transform="rotate(-45 237.78 527.16)" dominant-baseline="hanging">48 hpi</text>
<line x1="278.3" y1="523.8" x2="278.3" y2="525.8" stroke="#555" stroke-width="0.7"/>
<text x="276.43" y="527.16" font-size="6.2" font-weight="bold" text-anchor="end" fill="#000" stroke="#000" stroke-width="0.25" transform="rotate(-45 276.43 527.16)" dominant-baseline="hanging">72 hpi</text>
<polyline points="201.35,494.40 239.65,503.50 278.30,509.80" fill="none" stroke="#a8a8a8" stroke-width="0.75"/>
<polyline points="201.35,494.30 239.65,489.20 278.30,486.30" fill="none" stroke="#ff5050" stroke-width="0.75"/>
<polyline points="201.35,491.40 239.65,480.50 278.30,474.40" fill="none" stroke="#444" stroke-width="0.75" stroke-dasharray="2.2,1.6"/>
<polyline points="201.35,491.40 239.65,484.60 278.30,490.10" fill="none" stroke="#4848ff" stroke-width="0.75"/>
<line x1="201.35" y1="485.4" x2="201.35" y2="508.5" stroke="#999" stroke-width="0.6"/>
<line x1="199.85" y1="485.4" x2="202.85" y2="485.4" stroke="#999" stroke-width="0.6"/>
<line x1="199.85" y1="508.5" x2="202.85" y2="508.5" stroke="#999" stroke-width="0.6"/>
<line x1="239.65" y1="491.2" x2="239.65" y2="518.1" stroke="#999" stroke-width="0.6"/>
<line x1="238.15" y1="491.2" x2="241.15" y2="491.2" stroke="#999" stroke-width="0.6"/>
<line x1="238.15" y1="518.1" x2="241.15" y2="518.1" stroke="#999" stroke-width="0.6"/>
<line x1="278.3" y1="502.4" x2="278.3" y2="516.9" stroke="#999" stroke-width="0.6"/>
<line x1="276.8" y1="502.4" x2="279.8" y2="502.4" stroke="#999" stroke-width="0.6"/>
<line x1="276.8" y1="516.9" x2="279.8" y2="516.9" stroke="#999" stroke-width="0.6"/>
<circle cx="201.35" cy="494.4" r="1.35" fill="#8a8a8a" stroke="#8a8a8a" stroke-width="0.8"/>
<circle cx="239.65" cy="503.5" r="1.35" fill="#8a8a8a" stroke="#8a8a8a" stroke-width="0.8"/>
<circle cx="278.3" cy="509.8" r="1.35" fill="#8a8a8a" stroke="#8a8a8a" stroke-width="0.8"/>
<line x1="201.35" y1="484.1" x2="201.35" y2="503.9" stroke="#ff4040" stroke-width="0.6"/>
<line x1="199.85" y1="484.1" x2="202.85" y2="484.1" stroke="#ff4040" stroke-width="0.6"/>
<line x1="199.85" y1="503.9" x2="202.85" y2="503.9" stroke="#ff4040" stroke-width="0.6"/>
<line x1="239.65" y1="476.7" x2="239.65" y2="502.4" stroke="#ff4040" stroke-width="0.6"/>
<line x1="238.15" y1="476.7" x2="241.15" y2="476.7" stroke="#ff4040" stroke-width="0.6"/>
<line x1="238.15" y1="502.4" x2="241.15" y2="502.4" stroke="#ff4040" stroke-width="0.6"/>
<line x1="278.3" y1="472.2" x2="278.3" y2="499.6" stroke="#ff4040" stroke-width="0.6"/>
<line x1="276.8" y1="472.2" x2="279.8" y2="472.2" stroke="#ff4040" stroke-width="0.6"/>
<line x1="276.8" y1="499.6" x2="279.8" y2="499.6" stroke="#ff4040" stroke-width="0.6"/>
<rect x="200.0" y="492.95" width="2.7" height="2.7" fill="#ff1a1a" stroke="#ff1a1a" stroke-width="0.8"/>
<rect x="238.3" y="487.85" width="2.7" height="2.7" fill="#ff1a1a" stroke="#ff1a1a" stroke-width="0.8"/>
<rect x="276.95" y="484.95" width="2.7" height="2.7" fill="#ff1a1a" stroke="#ff1a1a" stroke-width="0.8"/>
<line x1="201.35" y1="479.4" x2="201.35" y2="503.9" stroke="#333" stroke-width="0.6"/>
<line x1="199.85" y1="479.4" x2="202.85" y2="479.4" stroke="#333" stroke-width="0.6"/>
<line x1="199.85" y1="503.9" x2="202.85" y2="503.9" stroke="#333" stroke-width="0.6"/>
<line x1="239.65" y1="472.2" x2="239.65" y2="495" stroke="#333" stroke-width="0.6"/>
<line x1="238.15" y1="472.2" x2="241.15" y2="472.2" stroke="#333" stroke-width="0.6"/>
<line x1="238.15" y1="495" x2="241.15" y2="495" stroke="#333" stroke-width="0.6"/>
<line x1="278.3" y1="465.8" x2="278.3" y2="482.4" stroke="#333" stroke-width="0.6"/>
<line x1="276.8" y1="465.8" x2="279.8" y2="465.8" stroke="#333" stroke-width="0.6"/>
<line x1="276.8" y1="482.4" x2="279.8" y2="482.4" stroke="#333" stroke-width="0.6"/>
<circle cx="201.35" cy="491.4" r="1.76" fill="white" stroke="#222" stroke-width="0.65"/>
<circle cx="239.65" cy="480.5" r="1.76" fill="white" stroke="#222" stroke-width="0.65"/>
<circle cx="278.3" cy="474.4" r="1.76" fill="white" stroke="#222" stroke-width="0.65"/>
<line x1="201.35" y1="475.7" x2="201.35" y2="506.6" stroke="#3a3aff" stroke-width="0.6"/>
<line x1="199.85" y1="475.7" x2="202.85" y2="475.7" stroke="#3a3aff" stroke-width="0.6"/>
<line x1="199.85" y1="506.6" x2="202.85" y2="506.6" stroke="#3a3aff" stroke-width="0.6"/>
<line x1="239.65" y1="464.6" x2="239.65" y2="504.1" stroke="#3a3aff" stroke-width="0.6"/>
<line x1="238.15" y1="464.6" x2="241.15" y2="464.6" stroke="#3a3aff" stroke-width="0.6"/>
<line x1="238.15" y1="504.1" x2="241.15" y2="504.1" stroke="#3a3aff" stroke-width="0.6"/>
<line x1="278.3" y1="470.3" x2="278.3" y2="509.8" stroke="#3a3aff" stroke-width="0.6"/>
<line x1="276.8" y1="470.3" x2="279.8" y2="470.3" stroke="#3a3aff" stroke-width="0.6"/>
<line x1="276.8" y1="509.8" x2="279.8" y2="509.8" stroke="#3a3aff" stroke-width="0.6"/>
<circle cx="201.35" cy="491.4" r="1.35" fill="#1a1aff" stroke="#1a1aff" stroke-width="0.8"/>
<circle cx="239.65" cy="484.6" r="1.35" fill="#1a1aff" stroke="#1a1aff" stroke-width="0.8"/>
<circle cx="278.3" cy="490.1" r="1.35" fill="#1a1aff" stroke="#1a1aff" stroke-width="0.8"/>
<line x1="300.8" y1="451.8" x2="309.0" y2="451.8" stroke="#8a8a8a" stroke-width="0.7"/>
<circle cx="304.9" cy="451.8" r="1.3" fill="#8a8a8a" stroke="#8a8a8a" stroke-width="0.8"/>
<text x="312.8" y="454.1" font-size="6.4" font-weight="normal" text-anchor="start" fill="#333" >Untreated</text>
<line x1="300.8" y1="460.75" x2="309.0" y2="460.75" stroke="#ff1a1a" stroke-width="0.7"/>
<rect x="303.6" y="459.45" width="2.6" height="2.6" fill="#ff1a1a" stroke="#ff1a1a" stroke-width="0.8"/>
<text x="312.8" y="463.05" font-size="6.4" font-weight="normal" text-anchor="start" fill="#333" >BXA 10nM</text>
<line x1="300.8" y1="469.7" x2="309.0" y2="469.7" stroke="#1a1aff" stroke-width="0.7"/>
<circle cx="304.9" cy="469.7" r="1.3" fill="#1a1aff" stroke="#1a1aff" stroke-width="0.8"/>
<text x="312.8" y="472.0" font-size="6.4" font-weight="normal" text-anchor="start" fill="#333" >FAVI 83&#956;M</text>
<line x1="300.8" y1="478.65" x2="309.0" y2="478.65" stroke="#222" stroke-width="0.7" stroke-dasharray="1.5,1"/>
<circle cx="304.9" cy="478.65" r="1.69" fill="white" stroke="#222" stroke-width="0.65"/>
<text x="312.8" y="480.95" font-size="6.4" font-weight="normal" text-anchor="start" fill="#333" >Combination</text>
</svg>
</body></html>
